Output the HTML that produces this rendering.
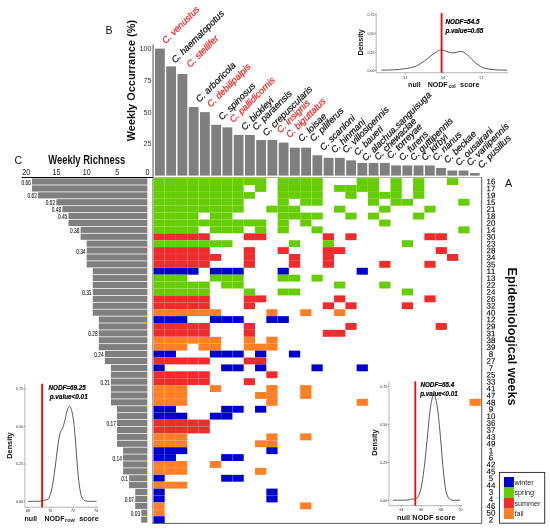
<!DOCTYPE html>
<html><head><meta charset="utf-8"><title>Figure</title>
<style>html,body{margin:0;padding:0;background:#fff}svg{display:block}text{font-family:"Liberation Sans",sans-serif}</style>
</head><body>
<svg width="550" height="530" viewBox="0 0 550 530">
<rect width="550" height="530" fill="#fff"/>
<rect x="153.40" y="178.10" width="11.29" height="6.90" fill="#66cd00" stroke="#fff" stroke-opacity=".14" stroke-width=".3"/>
<rect x="164.69" y="178.10" width="11.29" height="6.90" fill="#66cd00" stroke="#fff" stroke-opacity=".14" stroke-width=".3"/>
<rect x="175.98" y="178.10" width="11.29" height="6.90" fill="#66cd00" stroke="#fff" stroke-opacity=".14" stroke-width=".3"/>
<rect x="187.27" y="178.10" width="11.29" height="6.90" fill="#66cd00" stroke="#fff" stroke-opacity=".14" stroke-width=".3"/>
<rect x="198.56" y="178.10" width="11.29" height="6.90" fill="#66cd00" stroke="#fff" stroke-opacity=".14" stroke-width=".3"/>
<rect x="209.85" y="178.10" width="11.29" height="6.90" fill="#66cd00" stroke="#fff" stroke-opacity=".14" stroke-width=".3"/>
<rect x="221.14" y="178.10" width="11.29" height="6.90" fill="#66cd00" stroke="#fff" stroke-opacity=".14" stroke-width=".3"/>
<rect x="232.43" y="178.10" width="11.29" height="6.90" fill="#66cd00" stroke="#fff" stroke-opacity=".14" stroke-width=".3"/>
<rect x="243.72" y="178.10" width="11.29" height="6.90" fill="#66cd00" stroke="#fff" stroke-opacity=".14" stroke-width=".3"/>
<rect x="255.01" y="178.10" width="11.29" height="6.90" fill="#66cd00" stroke="#fff" stroke-opacity=".14" stroke-width=".3"/>
<rect x="277.59" y="178.10" width="11.29" height="6.90" fill="#66cd00" stroke="#fff" stroke-opacity=".14" stroke-width=".3"/>
<rect x="288.88" y="178.10" width="11.29" height="6.90" fill="#66cd00" stroke="#fff" stroke-opacity=".14" stroke-width=".3"/>
<rect x="300.17" y="178.10" width="11.29" height="6.90" fill="#66cd00" stroke="#fff" stroke-opacity=".14" stroke-width=".3"/>
<rect x="311.46" y="178.10" width="11.29" height="6.90" fill="#66cd00" stroke="#fff" stroke-opacity=".14" stroke-width=".3"/>
<rect x="356.62" y="178.10" width="11.29" height="6.90" fill="#66cd00" stroke="#fff" stroke-opacity=".14" stroke-width=".3"/>
<rect x="367.91" y="178.10" width="11.29" height="6.90" fill="#66cd00" stroke="#fff" stroke-opacity=".14" stroke-width=".3"/>
<rect x="390.49" y="178.10" width="11.29" height="6.90" fill="#66cd00" stroke="#fff" stroke-opacity=".14" stroke-width=".3"/>
<rect x="413.07" y="178.10" width="11.29" height="6.90" fill="#66cd00" stroke="#fff" stroke-opacity=".14" stroke-width=".3"/>
<rect x="446.94" y="178.10" width="11.29" height="6.90" fill="#66cd00" stroke="#fff" stroke-opacity=".14" stroke-width=".3"/>
<rect x="153.40" y="185.00" width="11.29" height="6.90" fill="#66cd00" stroke="#fff" stroke-opacity=".14" stroke-width=".3"/>
<rect x="164.69" y="185.00" width="11.29" height="6.90" fill="#66cd00" stroke="#fff" stroke-opacity=".14" stroke-width=".3"/>
<rect x="175.98" y="185.00" width="11.29" height="6.90" fill="#66cd00" stroke="#fff" stroke-opacity=".14" stroke-width=".3"/>
<rect x="187.27" y="185.00" width="11.29" height="6.90" fill="#66cd00" stroke="#fff" stroke-opacity=".14" stroke-width=".3"/>
<rect x="198.56" y="185.00" width="11.29" height="6.90" fill="#66cd00" stroke="#fff" stroke-opacity=".14" stroke-width=".3"/>
<rect x="209.85" y="185.00" width="11.29" height="6.90" fill="#66cd00" stroke="#fff" stroke-opacity=".14" stroke-width=".3"/>
<rect x="221.14" y="185.00" width="11.29" height="6.90" fill="#66cd00" stroke="#fff" stroke-opacity=".14" stroke-width=".3"/>
<rect x="232.43" y="185.00" width="11.29" height="6.90" fill="#66cd00" stroke="#fff" stroke-opacity=".14" stroke-width=".3"/>
<rect x="255.01" y="185.00" width="11.29" height="6.90" fill="#66cd00" stroke="#fff" stroke-opacity=".14" stroke-width=".3"/>
<rect x="277.59" y="185.00" width="11.29" height="6.90" fill="#66cd00" stroke="#fff" stroke-opacity=".14" stroke-width=".3"/>
<rect x="288.88" y="185.00" width="11.29" height="6.90" fill="#66cd00" stroke="#fff" stroke-opacity=".14" stroke-width=".3"/>
<rect x="300.17" y="185.00" width="11.29" height="6.90" fill="#66cd00" stroke="#fff" stroke-opacity=".14" stroke-width=".3"/>
<rect x="311.46" y="185.00" width="11.29" height="6.90" fill="#66cd00" stroke="#fff" stroke-opacity=".14" stroke-width=".3"/>
<rect x="334.04" y="185.00" width="11.29" height="6.90" fill="#66cd00" stroke="#fff" stroke-opacity=".14" stroke-width=".3"/>
<rect x="345.33" y="185.00" width="11.29" height="6.90" fill="#66cd00" stroke="#fff" stroke-opacity=".14" stroke-width=".3"/>
<rect x="356.62" y="185.00" width="11.29" height="6.90" fill="#66cd00" stroke="#fff" stroke-opacity=".14" stroke-width=".3"/>
<rect x="367.91" y="185.00" width="11.29" height="6.90" fill="#66cd00" stroke="#fff" stroke-opacity=".14" stroke-width=".3"/>
<rect x="390.49" y="185.00" width="11.29" height="6.90" fill="#66cd00" stroke="#fff" stroke-opacity=".14" stroke-width=".3"/>
<rect x="413.07" y="185.00" width="11.29" height="6.90" fill="#66cd00" stroke="#fff" stroke-opacity=".14" stroke-width=".3"/>
<rect x="153.40" y="191.90" width="11.29" height="6.90" fill="#66cd00" stroke="#fff" stroke-opacity=".14" stroke-width=".3"/>
<rect x="164.69" y="191.90" width="11.29" height="6.90" fill="#66cd00" stroke="#fff" stroke-opacity=".14" stroke-width=".3"/>
<rect x="175.98" y="191.90" width="11.29" height="6.90" fill="#66cd00" stroke="#fff" stroke-opacity=".14" stroke-width=".3"/>
<rect x="187.27" y="191.90" width="11.29" height="6.90" fill="#66cd00" stroke="#fff" stroke-opacity=".14" stroke-width=".3"/>
<rect x="198.56" y="191.90" width="11.29" height="6.90" fill="#66cd00" stroke="#fff" stroke-opacity=".14" stroke-width=".3"/>
<rect x="209.85" y="191.90" width="11.29" height="6.90" fill="#66cd00" stroke="#fff" stroke-opacity=".14" stroke-width=".3"/>
<rect x="221.14" y="191.90" width="11.29" height="6.90" fill="#66cd00" stroke="#fff" stroke-opacity=".14" stroke-width=".3"/>
<rect x="232.43" y="191.90" width="11.29" height="6.90" fill="#66cd00" stroke="#fff" stroke-opacity=".14" stroke-width=".3"/>
<rect x="243.72" y="191.90" width="11.29" height="6.90" fill="#66cd00" stroke="#fff" stroke-opacity=".14" stroke-width=".3"/>
<rect x="277.59" y="191.90" width="11.29" height="6.90" fill="#66cd00" stroke="#fff" stroke-opacity=".14" stroke-width=".3"/>
<rect x="288.88" y="191.90" width="11.29" height="6.90" fill="#66cd00" stroke="#fff" stroke-opacity=".14" stroke-width=".3"/>
<rect x="300.17" y="191.90" width="11.29" height="6.90" fill="#66cd00" stroke="#fff" stroke-opacity=".14" stroke-width=".3"/>
<rect x="311.46" y="191.90" width="11.29" height="6.90" fill="#66cd00" stroke="#fff" stroke-opacity=".14" stroke-width=".3"/>
<rect x="345.33" y="191.90" width="11.29" height="6.90" fill="#66cd00" stroke="#fff" stroke-opacity=".14" stroke-width=".3"/>
<rect x="367.91" y="191.90" width="11.29" height="6.90" fill="#66cd00" stroke="#fff" stroke-opacity=".14" stroke-width=".3"/>
<rect x="379.20" y="191.90" width="11.29" height="6.90" fill="#66cd00" stroke="#fff" stroke-opacity=".14" stroke-width=".3"/>
<rect x="390.49" y="191.90" width="11.29" height="6.90" fill="#66cd00" stroke="#fff" stroke-opacity=".14" stroke-width=".3"/>
<rect x="413.07" y="191.90" width="11.29" height="6.90" fill="#66cd00" stroke="#fff" stroke-opacity=".14" stroke-width=".3"/>
<rect x="153.40" y="198.80" width="11.29" height="6.90" fill="#66cd00" stroke="#fff" stroke-opacity=".14" stroke-width=".3"/>
<rect x="164.69" y="198.80" width="11.29" height="6.90" fill="#66cd00" stroke="#fff" stroke-opacity=".14" stroke-width=".3"/>
<rect x="175.98" y="198.80" width="11.29" height="6.90" fill="#66cd00" stroke="#fff" stroke-opacity=".14" stroke-width=".3"/>
<rect x="187.27" y="198.80" width="11.29" height="6.90" fill="#66cd00" stroke="#fff" stroke-opacity=".14" stroke-width=".3"/>
<rect x="198.56" y="198.80" width="11.29" height="6.90" fill="#66cd00" stroke="#fff" stroke-opacity=".14" stroke-width=".3"/>
<rect x="209.85" y="198.80" width="11.29" height="6.90" fill="#66cd00" stroke="#fff" stroke-opacity=".14" stroke-width=".3"/>
<rect x="221.14" y="198.80" width="11.29" height="6.90" fill="#66cd00" stroke="#fff" stroke-opacity=".14" stroke-width=".3"/>
<rect x="232.43" y="198.80" width="11.29" height="6.90" fill="#66cd00" stroke="#fff" stroke-opacity=".14" stroke-width=".3"/>
<rect x="277.59" y="198.80" width="11.29" height="6.90" fill="#66cd00" stroke="#fff" stroke-opacity=".14" stroke-width=".3"/>
<rect x="300.17" y="198.80" width="11.29" height="6.90" fill="#66cd00" stroke="#fff" stroke-opacity=".14" stroke-width=".3"/>
<rect x="311.46" y="198.80" width="11.29" height="6.90" fill="#66cd00" stroke="#fff" stroke-opacity=".14" stroke-width=".3"/>
<rect x="367.91" y="198.80" width="11.29" height="6.90" fill="#66cd00" stroke="#fff" stroke-opacity=".14" stroke-width=".3"/>
<rect x="390.49" y="198.80" width="11.29" height="6.90" fill="#66cd00" stroke="#fff" stroke-opacity=".14" stroke-width=".3"/>
<rect x="401.78" y="198.80" width="11.29" height="6.90" fill="#66cd00" stroke="#fff" stroke-opacity=".14" stroke-width=".3"/>
<rect x="458.23" y="198.80" width="11.29" height="6.90" fill="#66cd00" stroke="#fff" stroke-opacity=".14" stroke-width=".3"/>
<rect x="153.40" y="205.70" width="11.29" height="6.90" fill="#66cd00" stroke="#fff" stroke-opacity=".14" stroke-width=".3"/>
<rect x="164.69" y="205.70" width="11.29" height="6.90" fill="#66cd00" stroke="#fff" stroke-opacity=".14" stroke-width=".3"/>
<rect x="175.98" y="205.70" width="11.29" height="6.90" fill="#66cd00" stroke="#fff" stroke-opacity=".14" stroke-width=".3"/>
<rect x="187.27" y="205.70" width="11.29" height="6.90" fill="#66cd00" stroke="#fff" stroke-opacity=".14" stroke-width=".3"/>
<rect x="198.56" y="205.70" width="11.29" height="6.90" fill="#66cd00" stroke="#fff" stroke-opacity=".14" stroke-width=".3"/>
<rect x="209.85" y="205.70" width="11.29" height="6.90" fill="#66cd00" stroke="#fff" stroke-opacity=".14" stroke-width=".3"/>
<rect x="221.14" y="205.70" width="11.29" height="6.90" fill="#66cd00" stroke="#fff" stroke-opacity=".14" stroke-width=".3"/>
<rect x="232.43" y="205.70" width="11.29" height="6.90" fill="#66cd00" stroke="#fff" stroke-opacity=".14" stroke-width=".3"/>
<rect x="266.30" y="205.70" width="11.29" height="6.90" fill="#66cd00" stroke="#fff" stroke-opacity=".14" stroke-width=".3"/>
<rect x="277.59" y="205.70" width="11.29" height="6.90" fill="#66cd00" stroke="#fff" stroke-opacity=".14" stroke-width=".3"/>
<rect x="288.88" y="205.70" width="11.29" height="6.90" fill="#66cd00" stroke="#fff" stroke-opacity=".14" stroke-width=".3"/>
<rect x="334.04" y="205.70" width="11.29" height="6.90" fill="#66cd00" stroke="#fff" stroke-opacity=".14" stroke-width=".3"/>
<rect x="379.20" y="205.70" width="11.29" height="6.90" fill="#66cd00" stroke="#fff" stroke-opacity=".14" stroke-width=".3"/>
<rect x="424.36" y="205.70" width="11.29" height="6.90" fill="#66cd00" stroke="#fff" stroke-opacity=".14" stroke-width=".3"/>
<rect x="153.40" y="212.60" width="11.29" height="6.90" fill="#66cd00" stroke="#fff" stroke-opacity=".14" stroke-width=".3"/>
<rect x="164.69" y="212.60" width="11.29" height="6.90" fill="#66cd00" stroke="#fff" stroke-opacity=".14" stroke-width=".3"/>
<rect x="175.98" y="212.60" width="11.29" height="6.90" fill="#66cd00" stroke="#fff" stroke-opacity=".14" stroke-width=".3"/>
<rect x="187.27" y="212.60" width="11.29" height="6.90" fill="#66cd00" stroke="#fff" stroke-opacity=".14" stroke-width=".3"/>
<rect x="209.85" y="212.60" width="11.29" height="6.90" fill="#66cd00" stroke="#fff" stroke-opacity=".14" stroke-width=".3"/>
<rect x="221.14" y="212.60" width="11.29" height="6.90" fill="#66cd00" stroke="#fff" stroke-opacity=".14" stroke-width=".3"/>
<rect x="277.59" y="212.60" width="11.29" height="6.90" fill="#66cd00" stroke="#fff" stroke-opacity=".14" stroke-width=".3"/>
<rect x="288.88" y="212.60" width="11.29" height="6.90" fill="#66cd00" stroke="#fff" stroke-opacity=".14" stroke-width=".3"/>
<rect x="300.17" y="212.60" width="11.29" height="6.90" fill="#66cd00" stroke="#fff" stroke-opacity=".14" stroke-width=".3"/>
<rect x="311.46" y="212.60" width="11.29" height="6.90" fill="#66cd00" stroke="#fff" stroke-opacity=".14" stroke-width=".3"/>
<rect x="345.33" y="212.60" width="11.29" height="6.90" fill="#66cd00" stroke="#fff" stroke-opacity=".14" stroke-width=".3"/>
<rect x="367.91" y="212.60" width="11.29" height="6.90" fill="#66cd00" stroke="#fff" stroke-opacity=".14" stroke-width=".3"/>
<rect x="413.07" y="212.60" width="11.29" height="6.90" fill="#66cd00" stroke="#fff" stroke-opacity=".14" stroke-width=".3"/>
<rect x="153.40" y="219.50" width="11.29" height="6.90" fill="#66cd00" stroke="#fff" stroke-opacity=".14" stroke-width=".3"/>
<rect x="164.69" y="219.50" width="11.29" height="6.90" fill="#66cd00" stroke="#fff" stroke-opacity=".14" stroke-width=".3"/>
<rect x="175.98" y="219.50" width="11.29" height="6.90" fill="#66cd00" stroke="#fff" stroke-opacity=".14" stroke-width=".3"/>
<rect x="187.27" y="219.50" width="11.29" height="6.90" fill="#66cd00" stroke="#fff" stroke-opacity=".14" stroke-width=".3"/>
<rect x="198.56" y="219.50" width="11.29" height="6.90" fill="#66cd00" stroke="#fff" stroke-opacity=".14" stroke-width=".3"/>
<rect x="209.85" y="219.50" width="11.29" height="6.90" fill="#66cd00" stroke="#fff" stroke-opacity=".14" stroke-width=".3"/>
<rect x="221.14" y="219.50" width="11.29" height="6.90" fill="#66cd00" stroke="#fff" stroke-opacity=".14" stroke-width=".3"/>
<rect x="232.43" y="219.50" width="11.29" height="6.90" fill="#66cd00" stroke="#fff" stroke-opacity=".14" stroke-width=".3"/>
<rect x="243.72" y="219.50" width="11.29" height="6.90" fill="#66cd00" stroke="#fff" stroke-opacity=".14" stroke-width=".3"/>
<rect x="255.01" y="219.50" width="11.29" height="6.90" fill="#66cd00" stroke="#fff" stroke-opacity=".14" stroke-width=".3"/>
<rect x="277.59" y="219.50" width="11.29" height="6.90" fill="#66cd00" stroke="#fff" stroke-opacity=".14" stroke-width=".3"/>
<rect x="300.17" y="219.50" width="11.29" height="6.90" fill="#66cd00" stroke="#fff" stroke-opacity=".14" stroke-width=".3"/>
<rect x="379.20" y="219.50" width="11.29" height="6.90" fill="#66cd00" stroke="#fff" stroke-opacity=".14" stroke-width=".3"/>
<rect x="153.40" y="226.40" width="11.29" height="6.90" fill="#66cd00" stroke="#fff" stroke-opacity=".14" stroke-width=".3"/>
<rect x="164.69" y="226.40" width="11.29" height="6.90" fill="#66cd00" stroke="#fff" stroke-opacity=".14" stroke-width=".3"/>
<rect x="175.98" y="226.40" width="11.29" height="6.90" fill="#66cd00" stroke="#fff" stroke-opacity=".14" stroke-width=".3"/>
<rect x="187.27" y="226.40" width="11.29" height="6.90" fill="#66cd00" stroke="#fff" stroke-opacity=".14" stroke-width=".3"/>
<rect x="209.85" y="226.40" width="11.29" height="6.90" fill="#66cd00" stroke="#fff" stroke-opacity=".14" stroke-width=".3"/>
<rect x="221.14" y="226.40" width="11.29" height="6.90" fill="#66cd00" stroke="#fff" stroke-opacity=".14" stroke-width=".3"/>
<rect x="232.43" y="226.40" width="11.29" height="6.90" fill="#66cd00" stroke="#fff" stroke-opacity=".14" stroke-width=".3"/>
<rect x="255.01" y="226.40" width="11.29" height="6.90" fill="#66cd00" stroke="#fff" stroke-opacity=".14" stroke-width=".3"/>
<rect x="277.59" y="226.40" width="11.29" height="6.90" fill="#66cd00" stroke="#fff" stroke-opacity=".14" stroke-width=".3"/>
<rect x="311.46" y="226.40" width="11.29" height="6.90" fill="#66cd00" stroke="#fff" stroke-opacity=".14" stroke-width=".3"/>
<rect x="458.23" y="226.40" width="11.29" height="6.90" fill="#66cd00" stroke="#fff" stroke-opacity=".14" stroke-width=".3"/>
<rect x="153.40" y="233.30" width="11.29" height="6.90" fill="#ee2c2c" stroke="#fff" stroke-opacity=".14" stroke-width=".3"/>
<rect x="164.69" y="233.30" width="11.29" height="6.90" fill="#ee2c2c" stroke="#fff" stroke-opacity=".14" stroke-width=".3"/>
<rect x="175.98" y="233.30" width="11.29" height="6.90" fill="#ee2c2c" stroke="#fff" stroke-opacity=".14" stroke-width=".3"/>
<rect x="187.27" y="233.30" width="11.29" height="6.90" fill="#ee2c2c" stroke="#fff" stroke-opacity=".14" stroke-width=".3"/>
<rect x="198.56" y="233.30" width="11.29" height="6.90" fill="#ee2c2c" stroke="#fff" stroke-opacity=".14" stroke-width=".3"/>
<rect x="243.72" y="233.30" width="11.29" height="6.90" fill="#ee2c2c" stroke="#fff" stroke-opacity=".14" stroke-width=".3"/>
<rect x="255.01" y="233.30" width="11.29" height="6.90" fill="#ee2c2c" stroke="#fff" stroke-opacity=".14" stroke-width=".3"/>
<rect x="322.75" y="233.30" width="11.29" height="6.90" fill="#ee2c2c" stroke="#fff" stroke-opacity=".14" stroke-width=".3"/>
<rect x="345.33" y="233.30" width="11.29" height="6.90" fill="#ee2c2c" stroke="#fff" stroke-opacity=".14" stroke-width=".3"/>
<rect x="424.36" y="233.30" width="11.29" height="6.90" fill="#ee2c2c" stroke="#fff" stroke-opacity=".14" stroke-width=".3"/>
<rect x="435.65" y="233.30" width="11.29" height="6.90" fill="#ee2c2c" stroke="#fff" stroke-opacity=".14" stroke-width=".3"/>
<rect x="153.40" y="240.20" width="11.29" height="6.90" fill="#66cd00" stroke="#fff" stroke-opacity=".14" stroke-width=".3"/>
<rect x="164.69" y="240.20" width="11.29" height="6.90" fill="#66cd00" stroke="#fff" stroke-opacity=".14" stroke-width=".3"/>
<rect x="175.98" y="240.20" width="11.29" height="6.90" fill="#66cd00" stroke="#fff" stroke-opacity=".14" stroke-width=".3"/>
<rect x="187.27" y="240.20" width="11.29" height="6.90" fill="#66cd00" stroke="#fff" stroke-opacity=".14" stroke-width=".3"/>
<rect x="198.56" y="240.20" width="11.29" height="6.90" fill="#66cd00" stroke="#fff" stroke-opacity=".14" stroke-width=".3"/>
<rect x="209.85" y="240.20" width="11.29" height="6.90" fill="#66cd00" stroke="#fff" stroke-opacity=".14" stroke-width=".3"/>
<rect x="221.14" y="240.20" width="11.29" height="6.90" fill="#66cd00" stroke="#fff" stroke-opacity=".14" stroke-width=".3"/>
<rect x="288.88" y="240.20" width="11.29" height="6.90" fill="#66cd00" stroke="#fff" stroke-opacity=".14" stroke-width=".3"/>
<rect x="322.75" y="240.20" width="11.29" height="6.90" fill="#66cd00" stroke="#fff" stroke-opacity=".14" stroke-width=".3"/>
<rect x="401.78" y="240.20" width="11.29" height="6.90" fill="#66cd00" stroke="#fff" stroke-opacity=".14" stroke-width=".3"/>
<rect x="153.40" y="247.10" width="11.29" height="6.90" fill="#ee2c2c" stroke="#fff" stroke-opacity=".14" stroke-width=".3"/>
<rect x="164.69" y="247.10" width="11.29" height="6.90" fill="#ee2c2c" stroke="#fff" stroke-opacity=".14" stroke-width=".3"/>
<rect x="175.98" y="247.10" width="11.29" height="6.90" fill="#ee2c2c" stroke="#fff" stroke-opacity=".14" stroke-width=".3"/>
<rect x="187.27" y="247.10" width="11.29" height="6.90" fill="#ee2c2c" stroke="#fff" stroke-opacity=".14" stroke-width=".3"/>
<rect x="198.56" y="247.10" width="11.29" height="6.90" fill="#ee2c2c" stroke="#fff" stroke-opacity=".14" stroke-width=".3"/>
<rect x="243.72" y="247.10" width="11.29" height="6.90" fill="#ee2c2c" stroke="#fff" stroke-opacity=".14" stroke-width=".3"/>
<rect x="277.59" y="247.10" width="11.29" height="6.90" fill="#ee2c2c" stroke="#fff" stroke-opacity=".14" stroke-width=".3"/>
<rect x="322.75" y="247.10" width="11.29" height="6.90" fill="#ee2c2c" stroke="#fff" stroke-opacity=".14" stroke-width=".3"/>
<rect x="334.04" y="247.10" width="11.29" height="6.90" fill="#ee2c2c" stroke="#fff" stroke-opacity=".14" stroke-width=".3"/>
<rect x="435.65" y="247.10" width="11.29" height="6.90" fill="#ee2c2c" stroke="#fff" stroke-opacity=".14" stroke-width=".3"/>
<rect x="153.40" y="254.00" width="11.29" height="6.90" fill="#ee2c2c" stroke="#fff" stroke-opacity=".14" stroke-width=".3"/>
<rect x="164.69" y="254.00" width="11.29" height="6.90" fill="#ee2c2c" stroke="#fff" stroke-opacity=".14" stroke-width=".3"/>
<rect x="175.98" y="254.00" width="11.29" height="6.90" fill="#ee2c2c" stroke="#fff" stroke-opacity=".14" stroke-width=".3"/>
<rect x="187.27" y="254.00" width="11.29" height="6.90" fill="#ee2c2c" stroke="#fff" stroke-opacity=".14" stroke-width=".3"/>
<rect x="198.56" y="254.00" width="11.29" height="6.90" fill="#ee2c2c" stroke="#fff" stroke-opacity=".14" stroke-width=".3"/>
<rect x="209.85" y="254.00" width="11.29" height="6.90" fill="#ee2c2c" stroke="#fff" stroke-opacity=".14" stroke-width=".3"/>
<rect x="243.72" y="254.00" width="11.29" height="6.90" fill="#ee2c2c" stroke="#fff" stroke-opacity=".14" stroke-width=".3"/>
<rect x="288.88" y="254.00" width="11.29" height="6.90" fill="#ee2c2c" stroke="#fff" stroke-opacity=".14" stroke-width=".3"/>
<rect x="322.75" y="254.00" width="11.29" height="6.90" fill="#ee2c2c" stroke="#fff" stroke-opacity=".14" stroke-width=".3"/>
<rect x="446.94" y="254.00" width="11.29" height="6.90" fill="#ee2c2c" stroke="#fff" stroke-opacity=".14" stroke-width=".3"/>
<rect x="153.40" y="260.90" width="11.29" height="6.90" fill="#ee2c2c" stroke="#fff" stroke-opacity=".14" stroke-width=".3"/>
<rect x="164.69" y="260.90" width="11.29" height="6.90" fill="#ee2c2c" stroke="#fff" stroke-opacity=".14" stroke-width=".3"/>
<rect x="175.98" y="260.90" width="11.29" height="6.90" fill="#ee2c2c" stroke="#fff" stroke-opacity=".14" stroke-width=".3"/>
<rect x="187.27" y="260.90" width="11.29" height="6.90" fill="#ee2c2c" stroke="#fff" stroke-opacity=".14" stroke-width=".3"/>
<rect x="198.56" y="260.90" width="11.29" height="6.90" fill="#ee2c2c" stroke="#fff" stroke-opacity=".14" stroke-width=".3"/>
<rect x="243.72" y="260.90" width="11.29" height="6.90" fill="#ee2c2c" stroke="#fff" stroke-opacity=".14" stroke-width=".3"/>
<rect x="288.88" y="260.90" width="11.29" height="6.90" fill="#ee2c2c" stroke="#fff" stroke-opacity=".14" stroke-width=".3"/>
<rect x="322.75" y="260.90" width="11.29" height="6.90" fill="#ee2c2c" stroke="#fff" stroke-opacity=".14" stroke-width=".3"/>
<rect x="379.20" y="260.90" width="11.29" height="6.90" fill="#ee2c2c" stroke="#fff" stroke-opacity=".14" stroke-width=".3"/>
<rect x="424.36" y="260.90" width="11.29" height="6.90" fill="#ee2c2c" stroke="#fff" stroke-opacity=".14" stroke-width=".3"/>
<rect x="153.40" y="267.80" width="11.29" height="6.90" fill="#0000cd" stroke="#fff" stroke-opacity=".14" stroke-width=".3"/>
<rect x="164.69" y="267.80" width="11.29" height="6.90" fill="#0000cd" stroke="#fff" stroke-opacity=".14" stroke-width=".3"/>
<rect x="175.98" y="267.80" width="11.29" height="6.90" fill="#0000cd" stroke="#fff" stroke-opacity=".14" stroke-width=".3"/>
<rect x="187.27" y="267.80" width="11.29" height="6.90" fill="#0000cd" stroke="#fff" stroke-opacity=".14" stroke-width=".3"/>
<rect x="209.85" y="267.80" width="11.29" height="6.90" fill="#0000cd" stroke="#fff" stroke-opacity=".14" stroke-width=".3"/>
<rect x="221.14" y="267.80" width="11.29" height="6.90" fill="#0000cd" stroke="#fff" stroke-opacity=".14" stroke-width=".3"/>
<rect x="232.43" y="267.80" width="11.29" height="6.90" fill="#0000cd" stroke="#fff" stroke-opacity=".14" stroke-width=".3"/>
<rect x="277.59" y="267.80" width="11.29" height="6.90" fill="#0000cd" stroke="#fff" stroke-opacity=".14" stroke-width=".3"/>
<rect x="356.62" y="267.80" width="11.29" height="6.90" fill="#0000cd" stroke="#fff" stroke-opacity=".14" stroke-width=".3"/>
<rect x="153.40" y="274.70" width="11.29" height="6.90" fill="#66cd00" stroke="#fff" stroke-opacity=".14" stroke-width=".3"/>
<rect x="164.69" y="274.70" width="11.29" height="6.90" fill="#66cd00" stroke="#fff" stroke-opacity=".14" stroke-width=".3"/>
<rect x="175.98" y="274.70" width="11.29" height="6.90" fill="#66cd00" stroke="#fff" stroke-opacity=".14" stroke-width=".3"/>
<rect x="209.85" y="274.70" width="11.29" height="6.90" fill="#66cd00" stroke="#fff" stroke-opacity=".14" stroke-width=".3"/>
<rect x="221.14" y="274.70" width="11.29" height="6.90" fill="#66cd00" stroke="#fff" stroke-opacity=".14" stroke-width=".3"/>
<rect x="232.43" y="274.70" width="11.29" height="6.90" fill="#66cd00" stroke="#fff" stroke-opacity=".14" stroke-width=".3"/>
<rect x="277.59" y="274.70" width="11.29" height="6.90" fill="#66cd00" stroke="#fff" stroke-opacity=".14" stroke-width=".3"/>
<rect x="288.88" y="274.70" width="11.29" height="6.90" fill="#66cd00" stroke="#fff" stroke-opacity=".14" stroke-width=".3"/>
<rect x="311.46" y="274.70" width="11.29" height="6.90" fill="#66cd00" stroke="#fff" stroke-opacity=".14" stroke-width=".3"/>
<rect x="153.40" y="281.60" width="11.29" height="6.90" fill="#66cd00" stroke="#fff" stroke-opacity=".14" stroke-width=".3"/>
<rect x="164.69" y="281.60" width="11.29" height="6.90" fill="#66cd00" stroke="#fff" stroke-opacity=".14" stroke-width=".3"/>
<rect x="175.98" y="281.60" width="11.29" height="6.90" fill="#66cd00" stroke="#fff" stroke-opacity=".14" stroke-width=".3"/>
<rect x="187.27" y="281.60" width="11.29" height="6.90" fill="#66cd00" stroke="#fff" stroke-opacity=".14" stroke-width=".3"/>
<rect x="198.56" y="281.60" width="11.29" height="6.90" fill="#66cd00" stroke="#fff" stroke-opacity=".14" stroke-width=".3"/>
<rect x="221.14" y="281.60" width="11.29" height="6.90" fill="#66cd00" stroke="#fff" stroke-opacity=".14" stroke-width=".3"/>
<rect x="232.43" y="281.60" width="11.29" height="6.90" fill="#66cd00" stroke="#fff" stroke-opacity=".14" stroke-width=".3"/>
<rect x="334.04" y="281.60" width="11.29" height="6.90" fill="#66cd00" stroke="#fff" stroke-opacity=".14" stroke-width=".3"/>
<rect x="379.20" y="281.60" width="11.29" height="6.90" fill="#66cd00" stroke="#fff" stroke-opacity=".14" stroke-width=".3"/>
<rect x="153.40" y="288.50" width="11.29" height="6.90" fill="#66cd00" stroke="#fff" stroke-opacity=".14" stroke-width=".3"/>
<rect x="164.69" y="288.50" width="11.29" height="6.90" fill="#66cd00" stroke="#fff" stroke-opacity=".14" stroke-width=".3"/>
<rect x="175.98" y="288.50" width="11.29" height="6.90" fill="#66cd00" stroke="#fff" stroke-opacity=".14" stroke-width=".3"/>
<rect x="187.27" y="288.50" width="11.29" height="6.90" fill="#66cd00" stroke="#fff" stroke-opacity=".14" stroke-width=".3"/>
<rect x="198.56" y="288.50" width="11.29" height="6.90" fill="#66cd00" stroke="#fff" stroke-opacity=".14" stroke-width=".3"/>
<rect x="243.72" y="288.50" width="11.29" height="6.90" fill="#66cd00" stroke="#fff" stroke-opacity=".14" stroke-width=".3"/>
<rect x="277.59" y="288.50" width="11.29" height="6.90" fill="#66cd00" stroke="#fff" stroke-opacity=".14" stroke-width=".3"/>
<rect x="288.88" y="288.50" width="11.29" height="6.90" fill="#66cd00" stroke="#fff" stroke-opacity=".14" stroke-width=".3"/>
<rect x="401.78" y="288.50" width="11.29" height="6.90" fill="#66cd00" stroke="#fff" stroke-opacity=".14" stroke-width=".3"/>
<rect x="153.40" y="295.40" width="11.29" height="6.90" fill="#ee2c2c" stroke="#fff" stroke-opacity=".14" stroke-width=".3"/>
<rect x="164.69" y="295.40" width="11.29" height="6.90" fill="#ee2c2c" stroke="#fff" stroke-opacity=".14" stroke-width=".3"/>
<rect x="175.98" y="295.40" width="11.29" height="6.90" fill="#ee2c2c" stroke="#fff" stroke-opacity=".14" stroke-width=".3"/>
<rect x="187.27" y="295.40" width="11.29" height="6.90" fill="#ee2c2c" stroke="#fff" stroke-opacity=".14" stroke-width=".3"/>
<rect x="198.56" y="295.40" width="11.29" height="6.90" fill="#ee2c2c" stroke="#fff" stroke-opacity=".14" stroke-width=".3"/>
<rect x="243.72" y="295.40" width="11.29" height="6.90" fill="#ee2c2c" stroke="#fff" stroke-opacity=".14" stroke-width=".3"/>
<rect x="255.01" y="295.40" width="11.29" height="6.90" fill="#ee2c2c" stroke="#fff" stroke-opacity=".14" stroke-width=".3"/>
<rect x="334.04" y="295.40" width="11.29" height="6.90" fill="#ee2c2c" stroke="#fff" stroke-opacity=".14" stroke-width=".3"/>
<rect x="424.36" y="295.40" width="11.29" height="6.90" fill="#ee2c2c" stroke="#fff" stroke-opacity=".14" stroke-width=".3"/>
<rect x="153.40" y="302.30" width="11.29" height="6.90" fill="#ee2c2c" stroke="#fff" stroke-opacity=".14" stroke-width=".3"/>
<rect x="164.69" y="302.30" width="11.29" height="6.90" fill="#ee2c2c" stroke="#fff" stroke-opacity=".14" stroke-width=".3"/>
<rect x="175.98" y="302.30" width="11.29" height="6.90" fill="#ee2c2c" stroke="#fff" stroke-opacity=".14" stroke-width=".3"/>
<rect x="187.27" y="302.30" width="11.29" height="6.90" fill="#ee2c2c" stroke="#fff" stroke-opacity=".14" stroke-width=".3"/>
<rect x="198.56" y="302.30" width="11.29" height="6.90" fill="#ee2c2c" stroke="#fff" stroke-opacity=".14" stroke-width=".3"/>
<rect x="243.72" y="302.30" width="11.29" height="6.90" fill="#ee2c2c" stroke="#fff" stroke-opacity=".14" stroke-width=".3"/>
<rect x="322.75" y="302.30" width="11.29" height="6.90" fill="#ee2c2c" stroke="#fff" stroke-opacity=".14" stroke-width=".3"/>
<rect x="345.33" y="302.30" width="11.29" height="6.90" fill="#ee2c2c" stroke="#fff" stroke-opacity=".14" stroke-width=".3"/>
<rect x="401.78" y="302.30" width="11.29" height="6.90" fill="#ee2c2c" stroke="#fff" stroke-opacity=".14" stroke-width=".3"/>
<rect x="153.40" y="309.20" width="11.29" height="6.90" fill="#ff7f24" stroke="#fff" stroke-opacity=".14" stroke-width=".3"/>
<rect x="164.69" y="309.20" width="11.29" height="6.90" fill="#ff7f24" stroke="#fff" stroke-opacity=".14" stroke-width=".3"/>
<rect x="175.98" y="309.20" width="11.29" height="6.90" fill="#ff7f24" stroke="#fff" stroke-opacity=".14" stroke-width=".3"/>
<rect x="187.27" y="309.20" width="11.29" height="6.90" fill="#ff7f24" stroke="#fff" stroke-opacity=".14" stroke-width=".3"/>
<rect x="198.56" y="309.20" width="11.29" height="6.90" fill="#ff7f24" stroke="#fff" stroke-opacity=".14" stroke-width=".3"/>
<rect x="209.85" y="309.20" width="11.29" height="6.90" fill="#ff7f24" stroke="#fff" stroke-opacity=".14" stroke-width=".3"/>
<rect x="266.30" y="309.20" width="11.29" height="6.90" fill="#ff7f24" stroke="#fff" stroke-opacity=".14" stroke-width=".3"/>
<rect x="300.17" y="309.20" width="11.29" height="6.90" fill="#ff7f24" stroke="#fff" stroke-opacity=".14" stroke-width=".3"/>
<rect x="334.04" y="309.20" width="11.29" height="6.90" fill="#ff7f24" stroke="#fff" stroke-opacity=".14" stroke-width=".3"/>
<rect x="153.40" y="316.10" width="11.29" height="6.90" fill="#0000cd" stroke="#fff" stroke-opacity=".14" stroke-width=".3"/>
<rect x="164.69" y="316.10" width="11.29" height="6.90" fill="#0000cd" stroke="#fff" stroke-opacity=".14" stroke-width=".3"/>
<rect x="175.98" y="316.10" width="11.29" height="6.90" fill="#0000cd" stroke="#fff" stroke-opacity=".14" stroke-width=".3"/>
<rect x="209.85" y="316.10" width="11.29" height="6.90" fill="#0000cd" stroke="#fff" stroke-opacity=".14" stroke-width=".3"/>
<rect x="221.14" y="316.10" width="11.29" height="6.90" fill="#0000cd" stroke="#fff" stroke-opacity=".14" stroke-width=".3"/>
<rect x="232.43" y="316.10" width="11.29" height="6.90" fill="#0000cd" stroke="#fff" stroke-opacity=".14" stroke-width=".3"/>
<rect x="266.30" y="316.10" width="11.29" height="6.90" fill="#0000cd" stroke="#fff" stroke-opacity=".14" stroke-width=".3"/>
<rect x="277.59" y="316.10" width="11.29" height="6.90" fill="#0000cd" stroke="#fff" stroke-opacity=".14" stroke-width=".3"/>
<rect x="153.40" y="323.00" width="11.29" height="6.90" fill="#ee2c2c" stroke="#fff" stroke-opacity=".14" stroke-width=".3"/>
<rect x="164.69" y="323.00" width="11.29" height="6.90" fill="#ee2c2c" stroke="#fff" stroke-opacity=".14" stroke-width=".3"/>
<rect x="175.98" y="323.00" width="11.29" height="6.90" fill="#ee2c2c" stroke="#fff" stroke-opacity=".14" stroke-width=".3"/>
<rect x="187.27" y="323.00" width="11.29" height="6.90" fill="#ee2c2c" stroke="#fff" stroke-opacity=".14" stroke-width=".3"/>
<rect x="198.56" y="323.00" width="11.29" height="6.90" fill="#ee2c2c" stroke="#fff" stroke-opacity=".14" stroke-width=".3"/>
<rect x="243.72" y="323.00" width="11.29" height="6.90" fill="#ee2c2c" stroke="#fff" stroke-opacity=".14" stroke-width=".3"/>
<rect x="345.33" y="323.00" width="11.29" height="6.90" fill="#ee2c2c" stroke="#fff" stroke-opacity=".14" stroke-width=".3"/>
<rect x="435.65" y="323.00" width="11.29" height="6.90" fill="#ee2c2c" stroke="#fff" stroke-opacity=".14" stroke-width=".3"/>
<rect x="153.40" y="329.90" width="11.29" height="6.90" fill="#ee2c2c" stroke="#fff" stroke-opacity=".14" stroke-width=".3"/>
<rect x="164.69" y="329.90" width="11.29" height="6.90" fill="#ee2c2c" stroke="#fff" stroke-opacity=".14" stroke-width=".3"/>
<rect x="175.98" y="329.90" width="11.29" height="6.90" fill="#ee2c2c" stroke="#fff" stroke-opacity=".14" stroke-width=".3"/>
<rect x="187.27" y="329.90" width="11.29" height="6.90" fill="#ee2c2c" stroke="#fff" stroke-opacity=".14" stroke-width=".3"/>
<rect x="198.56" y="329.90" width="11.29" height="6.90" fill="#ee2c2c" stroke="#fff" stroke-opacity=".14" stroke-width=".3"/>
<rect x="243.72" y="329.90" width="11.29" height="6.90" fill="#ee2c2c" stroke="#fff" stroke-opacity=".14" stroke-width=".3"/>
<rect x="322.75" y="329.90" width="11.29" height="6.90" fill="#ee2c2c" stroke="#fff" stroke-opacity=".14" stroke-width=".3"/>
<rect x="334.04" y="329.90" width="11.29" height="6.90" fill="#ee2c2c" stroke="#fff" stroke-opacity=".14" stroke-width=".3"/>
<rect x="153.40" y="336.80" width="11.29" height="6.90" fill="#ff7f24" stroke="#fff" stroke-opacity=".14" stroke-width=".3"/>
<rect x="164.69" y="336.80" width="11.29" height="6.90" fill="#ff7f24" stroke="#fff" stroke-opacity=".14" stroke-width=".3"/>
<rect x="175.98" y="336.80" width="11.29" height="6.90" fill="#ff7f24" stroke="#fff" stroke-opacity=".14" stroke-width=".3"/>
<rect x="187.27" y="336.80" width="11.29" height="6.90" fill="#ff7f24" stroke="#fff" stroke-opacity=".14" stroke-width=".3"/>
<rect x="198.56" y="336.80" width="11.29" height="6.90" fill="#ff7f24" stroke="#fff" stroke-opacity=".14" stroke-width=".3"/>
<rect x="209.85" y="336.80" width="11.29" height="6.90" fill="#ff7f24" stroke="#fff" stroke-opacity=".14" stroke-width=".3"/>
<rect x="243.72" y="336.80" width="11.29" height="6.90" fill="#ff7f24" stroke="#fff" stroke-opacity=".14" stroke-width=".3"/>
<rect x="266.30" y="336.80" width="11.29" height="6.90" fill="#ff7f24" stroke="#fff" stroke-opacity=".14" stroke-width=".3"/>
<rect x="153.40" y="343.70" width="11.29" height="6.90" fill="#ff7f24" stroke="#fff" stroke-opacity=".14" stroke-width=".3"/>
<rect x="164.69" y="343.70" width="11.29" height="6.90" fill="#ff7f24" stroke="#fff" stroke-opacity=".14" stroke-width=".3"/>
<rect x="175.98" y="343.70" width="11.29" height="6.90" fill="#ff7f24" stroke="#fff" stroke-opacity=".14" stroke-width=".3"/>
<rect x="198.56" y="343.70" width="11.29" height="6.90" fill="#ff7f24" stroke="#fff" stroke-opacity=".14" stroke-width=".3"/>
<rect x="209.85" y="343.70" width="11.29" height="6.90" fill="#ff7f24" stroke="#fff" stroke-opacity=".14" stroke-width=".3"/>
<rect x="243.72" y="343.70" width="11.29" height="6.90" fill="#ff7f24" stroke="#fff" stroke-opacity=".14" stroke-width=".3"/>
<rect x="255.01" y="343.70" width="11.29" height="6.90" fill="#ff7f24" stroke="#fff" stroke-opacity=".14" stroke-width=".3"/>
<rect x="266.30" y="343.70" width="11.29" height="6.90" fill="#ff7f24" stroke="#fff" stroke-opacity=".14" stroke-width=".3"/>
<rect x="153.40" y="350.60" width="11.29" height="6.90" fill="#0000cd" stroke="#fff" stroke-opacity=".14" stroke-width=".3"/>
<rect x="164.69" y="350.60" width="11.29" height="6.90" fill="#0000cd" stroke="#fff" stroke-opacity=".14" stroke-width=".3"/>
<rect x="209.85" y="350.60" width="11.29" height="6.90" fill="#0000cd" stroke="#fff" stroke-opacity=".14" stroke-width=".3"/>
<rect x="221.14" y="350.60" width="11.29" height="6.90" fill="#0000cd" stroke="#fff" stroke-opacity=".14" stroke-width=".3"/>
<rect x="232.43" y="350.60" width="11.29" height="6.90" fill="#0000cd" stroke="#fff" stroke-opacity=".14" stroke-width=".3"/>
<rect x="255.01" y="350.60" width="11.29" height="6.90" fill="#0000cd" stroke="#fff" stroke-opacity=".14" stroke-width=".3"/>
<rect x="288.88" y="350.60" width="11.29" height="6.90" fill="#0000cd" stroke="#fff" stroke-opacity=".14" stroke-width=".3"/>
<rect x="153.40" y="357.50" width="11.29" height="6.90" fill="#ee2c2c" stroke="#fff" stroke-opacity=".14" stroke-width=".3"/>
<rect x="164.69" y="357.50" width="11.29" height="6.90" fill="#ee2c2c" stroke="#fff" stroke-opacity=".14" stroke-width=".3"/>
<rect x="175.98" y="357.50" width="11.29" height="6.90" fill="#ee2c2c" stroke="#fff" stroke-opacity=".14" stroke-width=".3"/>
<rect x="187.27" y="357.50" width="11.29" height="6.90" fill="#ee2c2c" stroke="#fff" stroke-opacity=".14" stroke-width=".3"/>
<rect x="198.56" y="357.50" width="11.29" height="6.90" fill="#ee2c2c" stroke="#fff" stroke-opacity=".14" stroke-width=".3"/>
<rect x="243.72" y="357.50" width="11.29" height="6.90" fill="#ee2c2c" stroke="#fff" stroke-opacity=".14" stroke-width=".3"/>
<rect x="255.01" y="357.50" width="11.29" height="6.90" fill="#ee2c2c" stroke="#fff" stroke-opacity=".14" stroke-width=".3"/>
<rect x="153.40" y="364.40" width="11.29" height="6.90" fill="#0000cd" stroke="#fff" stroke-opacity=".14" stroke-width=".3"/>
<rect x="221.14" y="364.40" width="11.29" height="6.90" fill="#0000cd" stroke="#fff" stroke-opacity=".14" stroke-width=".3"/>
<rect x="232.43" y="364.40" width="11.29" height="6.90" fill="#0000cd" stroke="#fff" stroke-opacity=".14" stroke-width=".3"/>
<rect x="255.01" y="364.40" width="11.29" height="6.90" fill="#0000cd" stroke="#fff" stroke-opacity=".14" stroke-width=".3"/>
<rect x="311.46" y="364.40" width="11.29" height="6.90" fill="#0000cd" stroke="#fff" stroke-opacity=".14" stroke-width=".3"/>
<rect x="356.62" y="364.40" width="11.29" height="6.90" fill="#0000cd" stroke="#fff" stroke-opacity=".14" stroke-width=".3"/>
<rect x="153.40" y="371.30" width="11.29" height="6.90" fill="#ee2c2c" stroke="#fff" stroke-opacity=".14" stroke-width=".3"/>
<rect x="164.69" y="371.30" width="11.29" height="6.90" fill="#ee2c2c" stroke="#fff" stroke-opacity=".14" stroke-width=".3"/>
<rect x="175.98" y="371.30" width="11.29" height="6.90" fill="#ee2c2c" stroke="#fff" stroke-opacity=".14" stroke-width=".3"/>
<rect x="187.27" y="371.30" width="11.29" height="6.90" fill="#ee2c2c" stroke="#fff" stroke-opacity=".14" stroke-width=".3"/>
<rect x="198.56" y="371.30" width="11.29" height="6.90" fill="#ee2c2c" stroke="#fff" stroke-opacity=".14" stroke-width=".3"/>
<rect x="266.30" y="371.30" width="11.29" height="6.90" fill="#ee2c2c" stroke="#fff" stroke-opacity=".14" stroke-width=".3"/>
<rect x="153.40" y="378.20" width="11.29" height="6.90" fill="#ee2c2c" stroke="#fff" stroke-opacity=".14" stroke-width=".3"/>
<rect x="164.69" y="378.20" width="11.29" height="6.90" fill="#ee2c2c" stroke="#fff" stroke-opacity=".14" stroke-width=".3"/>
<rect x="175.98" y="378.20" width="11.29" height="6.90" fill="#ee2c2c" stroke="#fff" stroke-opacity=".14" stroke-width=".3"/>
<rect x="187.27" y="378.20" width="11.29" height="6.90" fill="#ee2c2c" stroke="#fff" stroke-opacity=".14" stroke-width=".3"/>
<rect x="198.56" y="378.20" width="11.29" height="6.90" fill="#ee2c2c" stroke="#fff" stroke-opacity=".14" stroke-width=".3"/>
<rect x="243.72" y="378.20" width="11.29" height="6.90" fill="#ee2c2c" stroke="#fff" stroke-opacity=".14" stroke-width=".3"/>
<rect x="153.40" y="385.10" width="11.29" height="6.90" fill="#ff7f24" stroke="#fff" stroke-opacity=".14" stroke-width=".3"/>
<rect x="164.69" y="385.10" width="11.29" height="6.90" fill="#ff7f24" stroke="#fff" stroke-opacity=".14" stroke-width=".3"/>
<rect x="175.98" y="385.10" width="11.29" height="6.90" fill="#ff7f24" stroke="#fff" stroke-opacity=".14" stroke-width=".3"/>
<rect x="209.85" y="385.10" width="11.29" height="6.90" fill="#ff7f24" stroke="#fff" stroke-opacity=".14" stroke-width=".3"/>
<rect x="266.30" y="385.10" width="11.29" height="6.90" fill="#ff7f24" stroke="#fff" stroke-opacity=".14" stroke-width=".3"/>
<rect x="300.17" y="385.10" width="11.29" height="6.90" fill="#ff7f24" stroke="#fff" stroke-opacity=".14" stroke-width=".3"/>
<rect x="153.40" y="392.00" width="11.29" height="6.90" fill="#ff7f24" stroke="#fff" stroke-opacity=".14" stroke-width=".3"/>
<rect x="164.69" y="392.00" width="11.29" height="6.90" fill="#ff7f24" stroke="#fff" stroke-opacity=".14" stroke-width=".3"/>
<rect x="175.98" y="392.00" width="11.29" height="6.90" fill="#ff7f24" stroke="#fff" stroke-opacity=".14" stroke-width=".3"/>
<rect x="255.01" y="392.00" width="11.29" height="6.90" fill="#ff7f24" stroke="#fff" stroke-opacity=".14" stroke-width=".3"/>
<rect x="266.30" y="392.00" width="11.29" height="6.90" fill="#ff7f24" stroke="#fff" stroke-opacity=".14" stroke-width=".3"/>
<rect x="300.17" y="392.00" width="11.29" height="6.90" fill="#ff7f24" stroke="#fff" stroke-opacity=".14" stroke-width=".3"/>
<rect x="153.40" y="398.90" width="11.29" height="6.90" fill="#ff7f24" stroke="#fff" stroke-opacity=".14" stroke-width=".3"/>
<rect x="164.69" y="398.90" width="11.29" height="6.90" fill="#ff7f24" stroke="#fff" stroke-opacity=".14" stroke-width=".3"/>
<rect x="175.98" y="398.90" width="11.29" height="6.90" fill="#ff7f24" stroke="#fff" stroke-opacity=".14" stroke-width=".3"/>
<rect x="266.30" y="398.90" width="11.29" height="6.90" fill="#ff7f24" stroke="#fff" stroke-opacity=".14" stroke-width=".3"/>
<rect x="356.62" y="398.90" width="11.29" height="6.90" fill="#ff7f24" stroke="#fff" stroke-opacity=".14" stroke-width=".3"/>
<rect x="469.52" y="398.90" width="11.29" height="6.90" fill="#ff7f24" stroke="#fff" stroke-opacity=".14" stroke-width=".3"/>
<rect x="153.40" y="405.80" width="11.29" height="6.90" fill="#0000cd" stroke="#fff" stroke-opacity=".14" stroke-width=".3"/>
<rect x="164.69" y="405.80" width="11.29" height="6.90" fill="#0000cd" stroke="#fff" stroke-opacity=".14" stroke-width=".3"/>
<rect x="221.14" y="405.80" width="11.29" height="6.90" fill="#0000cd" stroke="#fff" stroke-opacity=".14" stroke-width=".3"/>
<rect x="232.43" y="405.80" width="11.29" height="6.90" fill="#0000cd" stroke="#fff" stroke-opacity=".14" stroke-width=".3"/>
<rect x="255.01" y="405.80" width="11.29" height="6.90" fill="#0000cd" stroke="#fff" stroke-opacity=".14" stroke-width=".3"/>
<rect x="153.40" y="412.70" width="11.29" height="6.90" fill="#0000cd" stroke="#fff" stroke-opacity=".14" stroke-width=".3"/>
<rect x="164.69" y="412.70" width="11.29" height="6.90" fill="#0000cd" stroke="#fff" stroke-opacity=".14" stroke-width=".3"/>
<rect x="175.98" y="412.70" width="11.29" height="6.90" fill="#0000cd" stroke="#fff" stroke-opacity=".14" stroke-width=".3"/>
<rect x="209.85" y="412.70" width="11.29" height="6.90" fill="#0000cd" stroke="#fff" stroke-opacity=".14" stroke-width=".3"/>
<rect x="221.14" y="412.70" width="11.29" height="6.90" fill="#0000cd" stroke="#fff" stroke-opacity=".14" stroke-width=".3"/>
<rect x="153.40" y="419.60" width="11.29" height="6.90" fill="#ee2c2c" stroke="#fff" stroke-opacity=".14" stroke-width=".3"/>
<rect x="164.69" y="419.60" width="11.29" height="6.90" fill="#ee2c2c" stroke="#fff" stroke-opacity=".14" stroke-width=".3"/>
<rect x="175.98" y="419.60" width="11.29" height="6.90" fill="#ee2c2c" stroke="#fff" stroke-opacity=".14" stroke-width=".3"/>
<rect x="187.27" y="419.60" width="11.29" height="6.90" fill="#ee2c2c" stroke="#fff" stroke-opacity=".14" stroke-width=".3"/>
<rect x="198.56" y="419.60" width="11.29" height="6.90" fill="#ee2c2c" stroke="#fff" stroke-opacity=".14" stroke-width=".3"/>
<rect x="153.40" y="426.50" width="11.29" height="6.90" fill="#ee2c2c" stroke="#fff" stroke-opacity=".14" stroke-width=".3"/>
<rect x="164.69" y="426.50" width="11.29" height="6.90" fill="#ee2c2c" stroke="#fff" stroke-opacity=".14" stroke-width=".3"/>
<rect x="175.98" y="426.50" width="11.29" height="6.90" fill="#ee2c2c" stroke="#fff" stroke-opacity=".14" stroke-width=".3"/>
<rect x="187.27" y="426.50" width="11.29" height="6.90" fill="#ee2c2c" stroke="#fff" stroke-opacity=".14" stroke-width=".3"/>
<rect x="198.56" y="426.50" width="11.29" height="6.90" fill="#ee2c2c" stroke="#fff" stroke-opacity=".14" stroke-width=".3"/>
<rect x="153.40" y="433.40" width="11.29" height="6.90" fill="#ff7f24" stroke="#fff" stroke-opacity=".14" stroke-width=".3"/>
<rect x="164.69" y="433.40" width="11.29" height="6.90" fill="#ff7f24" stroke="#fff" stroke-opacity=".14" stroke-width=".3"/>
<rect x="175.98" y="433.40" width="11.29" height="6.90" fill="#ff7f24" stroke="#fff" stroke-opacity=".14" stroke-width=".3"/>
<rect x="266.30" y="433.40" width="11.29" height="6.90" fill="#ff7f24" stroke="#fff" stroke-opacity=".14" stroke-width=".3"/>
<rect x="300.17" y="433.40" width="11.29" height="6.90" fill="#ff7f24" stroke="#fff" stroke-opacity=".14" stroke-width=".3"/>
<rect x="153.40" y="440.30" width="11.29" height="6.90" fill="#ff7f24" stroke="#fff" stroke-opacity=".14" stroke-width=".3"/>
<rect x="164.69" y="440.30" width="11.29" height="6.90" fill="#ff7f24" stroke="#fff" stroke-opacity=".14" stroke-width=".3"/>
<rect x="175.98" y="440.30" width="11.29" height="6.90" fill="#ff7f24" stroke="#fff" stroke-opacity=".14" stroke-width=".3"/>
<rect x="255.01" y="440.30" width="11.29" height="6.90" fill="#ff7f24" stroke="#fff" stroke-opacity=".14" stroke-width=".3"/>
<rect x="266.30" y="440.30" width="11.29" height="6.90" fill="#ff7f24" stroke="#fff" stroke-opacity=".14" stroke-width=".3"/>
<rect x="153.40" y="447.20" width="11.29" height="6.90" fill="#0000cd" stroke="#fff" stroke-opacity=".14" stroke-width=".3"/>
<rect x="164.69" y="447.20" width="11.29" height="6.90" fill="#0000cd" stroke="#fff" stroke-opacity=".14" stroke-width=".3"/>
<rect x="175.98" y="447.20" width="11.29" height="6.90" fill="#0000cd" stroke="#fff" stroke-opacity=".14" stroke-width=".3"/>
<rect x="266.30" y="447.20" width="11.29" height="6.90" fill="#0000cd" stroke="#fff" stroke-opacity=".14" stroke-width=".3"/>
<rect x="153.40" y="454.10" width="11.29" height="6.90" fill="#0000cd" stroke="#fff" stroke-opacity=".14" stroke-width=".3"/>
<rect x="164.69" y="454.10" width="11.29" height="6.90" fill="#0000cd" stroke="#fff" stroke-opacity=".14" stroke-width=".3"/>
<rect x="221.14" y="454.10" width="11.29" height="6.90" fill="#0000cd" stroke="#fff" stroke-opacity=".14" stroke-width=".3"/>
<rect x="232.43" y="454.10" width="11.29" height="6.90" fill="#0000cd" stroke="#fff" stroke-opacity=".14" stroke-width=".3"/>
<rect x="153.40" y="461.00" width="11.29" height="6.90" fill="#ff7f24" stroke="#fff" stroke-opacity=".14" stroke-width=".3"/>
<rect x="164.69" y="461.00" width="11.29" height="6.90" fill="#ff7f24" stroke="#fff" stroke-opacity=".14" stroke-width=".3"/>
<rect x="175.98" y="461.00" width="11.29" height="6.90" fill="#ff7f24" stroke="#fff" stroke-opacity=".14" stroke-width=".3"/>
<rect x="209.85" y="461.00" width="11.29" height="6.90" fill="#ff7f24" stroke="#fff" stroke-opacity=".14" stroke-width=".3"/>
<rect x="153.40" y="467.90" width="11.29" height="6.90" fill="#ff7f24" stroke="#fff" stroke-opacity=".14" stroke-width=".3"/>
<rect x="164.69" y="467.90" width="11.29" height="6.90" fill="#ff7f24" stroke="#fff" stroke-opacity=".14" stroke-width=".3"/>
<rect x="175.98" y="467.90" width="11.29" height="6.90" fill="#ff7f24" stroke="#fff" stroke-opacity=".14" stroke-width=".3"/>
<rect x="255.01" y="467.90" width="11.29" height="6.90" fill="#ff7f24" stroke="#fff" stroke-opacity=".14" stroke-width=".3"/>
<rect x="153.40" y="474.80" width="11.29" height="6.90" fill="#0000cd" stroke="#fff" stroke-opacity=".14" stroke-width=".3"/>
<rect x="221.14" y="474.80" width="11.29" height="6.90" fill="#0000cd" stroke="#fff" stroke-opacity=".14" stroke-width=".3"/>
<rect x="232.43" y="474.80" width="11.29" height="6.90" fill="#0000cd" stroke="#fff" stroke-opacity=".14" stroke-width=".3"/>
<rect x="153.40" y="481.70" width="11.29" height="6.90" fill="#ff7f24" stroke="#fff" stroke-opacity=".14" stroke-width=".3"/>
<rect x="164.69" y="481.70" width="11.29" height="6.90" fill="#ff7f24" stroke="#fff" stroke-opacity=".14" stroke-width=".3"/>
<rect x="175.98" y="481.70" width="11.29" height="6.90" fill="#ff7f24" stroke="#fff" stroke-opacity=".14" stroke-width=".3"/>
<rect x="153.40" y="488.60" width="11.29" height="6.90" fill="#0000cd" stroke="#fff" stroke-opacity=".14" stroke-width=".3"/>
<rect x="266.30" y="488.60" width="11.29" height="6.90" fill="#0000cd" stroke="#fff" stroke-opacity=".14" stroke-width=".3"/>
<rect x="153.40" y="495.50" width="11.29" height="6.90" fill="#0000cd" stroke="#fff" stroke-opacity=".14" stroke-width=".3"/>
<rect x="266.30" y="495.50" width="11.29" height="6.90" fill="#0000cd" stroke="#fff" stroke-opacity=".14" stroke-width=".3"/>
<rect x="153.40" y="502.40" width="11.29" height="6.90" fill="#ff7f24" stroke="#fff" stroke-opacity=".14" stroke-width=".3"/>
<rect x="300.17" y="502.40" width="11.29" height="6.90" fill="#ff7f24" stroke="#fff" stroke-opacity=".14" stroke-width=".3"/>
<rect x="153.40" y="509.30" width="11.29" height="6.90" fill="#ff7f24" stroke="#fff" stroke-opacity=".14" stroke-width=".3"/>
<rect x="153.40" y="516.20" width="11.29" height="6.90" fill="#0000cd" stroke="#fff" stroke-opacity=".14" stroke-width=".3"/>
<path d="M152.8 177.5H481.71" fill="none" stroke="#9a9a9a" stroke-width=".8"/>
<path d="M152.8 177.5V523.40" fill="none" stroke="#8a8590" stroke-width="1"/>
<path d="M481.71 177.1V523.40H152.3" fill="none" stroke="#4a4a4a" stroke-width=".9"/>
<path d="M21.5 177.45H153" stroke="#000" stroke-width="1.1"/>
<path d="M153.1 44.5V177.5" stroke="#888" stroke-width="1.5"/>
<rect x="155.00" y="48.60" width="9.8" height="127.00" fill="#7f7f7f"/>
<rect x="166.25" y="66.38" width="9.8" height="109.22" fill="#7f7f7f"/>
<rect x="177.49" y="74.00" width="9.8" height="101.60" fill="#7f7f7f"/>
<rect x="188.74" y="107.02" width="9.8" height="68.58" fill="#7f7f7f"/>
<rect x="199.98" y="112.10" width="9.8" height="63.50" fill="#7f7f7f"/>
<rect x="211.23" y="124.80" width="9.8" height="50.80" fill="#7f7f7f"/>
<rect x="222.48" y="127.34" width="9.8" height="48.26" fill="#7f7f7f"/>
<rect x="233.72" y="134.96" width="9.8" height="40.64" fill="#7f7f7f"/>
<rect x="244.97" y="134.96" width="9.8" height="40.64" fill="#7f7f7f"/>
<rect x="256.21" y="140.04" width="9.8" height="35.56" fill="#7f7f7f"/>
<rect x="267.46" y="140.04" width="9.8" height="35.56" fill="#7f7f7f"/>
<rect x="278.71" y="142.58" width="9.8" height="33.02" fill="#7f7f7f"/>
<rect x="289.95" y="147.66" width="9.8" height="27.94" fill="#7f7f7f"/>
<rect x="301.20" y="147.66" width="9.8" height="27.94" fill="#7f7f7f"/>
<rect x="312.44" y="155.28" width="9.8" height="20.32" fill="#7f7f7f"/>
<rect x="323.69" y="157.82" width="9.8" height="17.78" fill="#7f7f7f"/>
<rect x="334.94" y="157.82" width="9.8" height="17.78" fill="#7f7f7f"/>
<rect x="346.18" y="160.36" width="9.8" height="15.24" fill="#7f7f7f"/>
<rect x="357.43" y="162.90" width="9.8" height="12.70" fill="#7f7f7f"/>
<rect x="368.67" y="162.90" width="9.8" height="12.70" fill="#7f7f7f"/>
<rect x="379.92" y="162.90" width="9.8" height="12.70" fill="#7f7f7f"/>
<rect x="391.17" y="165.44" width="9.8" height="10.16" fill="#7f7f7f"/>
<rect x="402.41" y="165.44" width="9.8" height="10.16" fill="#7f7f7f"/>
<rect x="413.66" y="165.44" width="9.8" height="10.16" fill="#7f7f7f"/>
<rect x="424.90" y="165.44" width="9.8" height="10.16" fill="#7f7f7f"/>
<rect x="436.15" y="167.98" width="9.8" height="7.62" fill="#7f7f7f"/>
<rect x="447.40" y="170.52" width="9.8" height="5.08" fill="#7f7f7f"/>
<rect x="458.64" y="170.52" width="9.8" height="5.08" fill="#7f7f7f"/>
<rect x="469.89" y="173.06" width="9.8" height="2.54" fill="#7f7f7f"/>
<text x="151.6" y="51.20" font-size="7.2" text-anchor="end" fill="#333">100</text>
<text x="151.6" y="82.95" font-size="7.2" text-anchor="end" fill="#333">75</text>
<text x="151.6" y="114.70" font-size="7.2" text-anchor="end" fill="#333">50</text>
<text x="151.6" y="146.45" font-size="7.2" text-anchor="end" fill="#333">25</text>
<text transform="translate(165.70 44.30) rotate(-45)" font-size="9.2" font-style="italic" fill="#ee2222" stroke="#ee2222" stroke-width=".22">C. venustus</text>
<text transform="translate(175.18 63.58) rotate(-45)" font-size="9.2" font-style="italic" fill="#111" stroke="#111" stroke-width=".22">C. haematopotus</text>
<text transform="translate(190.25 67.90) rotate(-45)" font-size="9.2" font-style="italic" fill="#ee2222" stroke="#ee2222" stroke-width=".22">C. stellifer</text>
<text transform="translate(199.53 102.72) rotate(-45)" font-size="9.2" font-style="italic" fill="#111" stroke="#111" stroke-width=".22">C. arboricola</text>
<text transform="translate(210.80 107.80) rotate(-45)" font-size="9.2" font-style="italic" fill="#ee2222" stroke="#ee2222" stroke-width=".22">C. debilipalpis</text>
<text transform="translate(222.08 120.50) rotate(-45)" font-size="9.2" font-style="italic" fill="#111" stroke="#111" stroke-width=".22">C. spinosus</text>
<text transform="translate(233.36 123.04) rotate(-45)" font-size="9.2" font-style="italic" fill="#ee2222" stroke="#ee2222" stroke-width=".22">C. pallidicornis</text>
<text transform="translate(244.63 130.66) rotate(-45)" font-size="9.2" font-style="italic" fill="#111" stroke="#111" stroke-width=".22">C. bickleyi</text>
<text transform="translate(255.91 130.66) rotate(-45)" font-size="9.2" font-style="italic" fill="#111" stroke="#111" stroke-width=".22">C. paraensis</text>
<text transform="translate(266.28 136.44) rotate(-45)" font-size="9.2" font-style="italic" fill="#111" stroke="#111" stroke-width=".22">C. crepuscularis</text>
<text transform="translate(280.46 133.44) rotate(-45)" font-size="9.2" font-style="italic" fill="#ee2222" stroke="#ee2222" stroke-width=".22">C. insignis</text>
<text transform="translate(289.74 138.28) rotate(-45)" font-size="9.2" font-style="italic" fill="#ee2222" stroke="#ee2222" stroke-width=".22">C. biguttatus</text>
<text transform="translate(301.81 142.16) rotate(-45)" font-size="9.2" font-style="italic" fill="#111" stroke="#111" stroke-width=".22">C. loisae</text>
<text transform="translate(313.59 142.06) rotate(-45)" font-size="9.2" font-style="italic" fill="#111" stroke="#111" stroke-width=".22">C. piliferus</text>
<text transform="translate(323.56 150.98) rotate(-45)" font-size="9.2" font-style="italic" fill="#111" stroke="#111" stroke-width=".22">C. scanloni</text>
<text transform="translate(334.84 153.52) rotate(-45)" font-size="9.2" font-style="italic" fill="#111" stroke="#111" stroke-width=".22">C. hinmani</text>
<text transform="translate(346.12 153.52) rotate(-45)" font-size="9.2" font-style="italic" fill="#111" stroke="#111" stroke-width=".22">C. villosipennis</text>
<text transform="translate(357.39 156.06) rotate(-45)" font-size="9.2" font-style="italic" fill="#111" stroke="#111" stroke-width=".22">C. baueri</text>
<text transform="translate(365.67 161.60) rotate(-45)" font-size="9.2" font-style="italic" fill="#111" stroke="#111" stroke-width=".22">C. alachua.sanguisuga</text>
<text transform="translate(378.09 160.65) rotate(-45)" font-size="9.2" font-style="italic" fill="#111" stroke="#111" stroke-width=".22">C. chewaclae</text>
<text transform="translate(390.47 159.35) rotate(-45)" font-size="9.2" font-style="italic" fill="#111" stroke="#111" stroke-width=".22">C. torreyae</text>
<text transform="translate(402.50 161.14) rotate(-45)" font-size="9.2" font-style="italic" fill="#111" stroke="#111" stroke-width=".22">C. furens</text>
<text transform="translate(413.77 161.14) rotate(-45)" font-size="9.2" font-style="italic" fill="#111" stroke="#111" stroke-width=".22">C. guttipennis</text>
<text transform="translate(425.05 161.14) rotate(-45)" font-size="9.2" font-style="italic" fill="#111" stroke="#111" stroke-width=".22">C. kirbyi</text>
<text transform="translate(436.32 161.14) rotate(-45)" font-size="9.2" font-style="italic" fill="#111" stroke="#111" stroke-width=".22">C. nanus</text>
<text transform="translate(447.60 163.68) rotate(-45)" font-size="9.2" font-style="italic" fill="#111" stroke="#111" stroke-width=".22">C. beckae</text>
<text transform="translate(458.88 166.22) rotate(-45)" font-size="9.2" font-style="italic" fill="#111" stroke="#111" stroke-width=".22">C. ousairani</text>
<text transform="translate(470.15 166.22) rotate(-45)" font-size="9.2" font-style="italic" fill="#111" stroke="#111" stroke-width=".22">C. variipennis</text>
<text transform="translate(481.43 168.76) rotate(-45)" font-size="9.2" font-style="italic" fill="#111" stroke="#111" stroke-width=".22">C. pusillus</text>
<rect x="32.02" y="178.47" width="115.33" height="6.15" fill="#7f7f7f"/>
<rect x="32.02" y="185.38" width="115.33" height="6.15" fill="#7f7f7f"/>
<rect x="38.09" y="192.28" width="109.26" height="6.15" fill="#7f7f7f"/>
<rect x="56.30" y="199.18" width="91.05" height="6.15" fill="#7f7f7f"/>
<rect x="62.37" y="206.08" width="84.98" height="6.15" fill="#7f7f7f"/>
<rect x="68.44" y="212.98" width="78.91" height="6.15" fill="#7f7f7f"/>
<rect x="68.44" y="219.88" width="78.91" height="6.15" fill="#7f7f7f"/>
<rect x="80.58" y="226.78" width="66.77" height="6.15" fill="#7f7f7f"/>
<rect x="80.58" y="233.68" width="66.77" height="6.15" fill="#7f7f7f"/>
<rect x="86.65" y="240.57" width="60.70" height="6.15" fill="#7f7f7f"/>
<rect x="86.65" y="247.48" width="60.70" height="6.15" fill="#7f7f7f"/>
<rect x="86.65" y="254.38" width="60.70" height="6.15" fill="#7f7f7f"/>
<rect x="86.65" y="261.28" width="60.70" height="6.15" fill="#7f7f7f"/>
<rect x="92.72" y="268.18" width="54.63" height="6.15" fill="#7f7f7f"/>
<rect x="92.72" y="275.07" width="54.63" height="6.15" fill="#7f7f7f"/>
<rect x="92.72" y="281.98" width="54.63" height="6.15" fill="#7f7f7f"/>
<rect x="92.72" y="288.88" width="54.63" height="6.15" fill="#7f7f7f"/>
<rect x="92.72" y="295.78" width="54.63" height="6.15" fill="#7f7f7f"/>
<rect x="92.72" y="302.68" width="54.63" height="6.15" fill="#7f7f7f"/>
<rect x="92.72" y="309.57" width="54.63" height="6.15" fill="#7f7f7f"/>
<rect x="98.79" y="316.48" width="48.56" height="6.15" fill="#7f7f7f"/>
<rect x="98.79" y="323.38" width="48.56" height="6.15" fill="#7f7f7f"/>
<rect x="98.79" y="330.28" width="48.56" height="6.15" fill="#7f7f7f"/>
<rect x="98.79" y="337.18" width="48.56" height="6.15" fill="#7f7f7f"/>
<rect x="98.79" y="344.07" width="48.56" height="6.15" fill="#7f7f7f"/>
<rect x="104.86" y="350.98" width="42.49" height="6.15" fill="#7f7f7f"/>
<rect x="104.86" y="357.88" width="42.49" height="6.15" fill="#7f7f7f"/>
<rect x="110.93" y="364.78" width="36.42" height="6.15" fill="#7f7f7f"/>
<rect x="110.93" y="371.68" width="36.42" height="6.15" fill="#7f7f7f"/>
<rect x="110.93" y="378.57" width="36.42" height="6.15" fill="#7f7f7f"/>
<rect x="110.93" y="385.48" width="36.42" height="6.15" fill="#7f7f7f"/>
<rect x="110.93" y="392.38" width="36.42" height="6.15" fill="#7f7f7f"/>
<rect x="110.93" y="399.28" width="36.42" height="6.15" fill="#7f7f7f"/>
<rect x="117.00" y="406.18" width="30.35" height="6.15" fill="#7f7f7f"/>
<rect x="117.00" y="413.07" width="30.35" height="6.15" fill="#7f7f7f"/>
<rect x="117.00" y="419.98" width="30.35" height="6.15" fill="#7f7f7f"/>
<rect x="117.00" y="426.88" width="30.35" height="6.15" fill="#7f7f7f"/>
<rect x="117.00" y="433.78" width="30.35" height="6.15" fill="#7f7f7f"/>
<rect x="117.00" y="440.68" width="30.35" height="6.15" fill="#7f7f7f"/>
<rect x="123.07" y="447.57" width="24.28" height="6.15" fill="#7f7f7f"/>
<rect x="123.07" y="454.47" width="24.28" height="6.15" fill="#7f7f7f"/>
<rect x="123.07" y="461.38" width="24.28" height="6.15" fill="#7f7f7f"/>
<rect x="123.07" y="468.28" width="24.28" height="6.15" fill="#7f7f7f"/>
<rect x="129.14" y="475.18" width="18.21" height="6.15" fill="#7f7f7f"/>
<rect x="129.14" y="482.07" width="18.21" height="6.15" fill="#7f7f7f"/>
<rect x="135.21" y="488.97" width="12.14" height="6.15" fill="#7f7f7f"/>
<rect x="135.21" y="495.88" width="12.14" height="6.15" fill="#7f7f7f"/>
<rect x="135.21" y="502.78" width="12.14" height="6.15" fill="#7f7f7f"/>
<rect x="141.28" y="509.68" width="6.07" height="6.15" fill="#7f7f7f"/>
<rect x="141.28" y="516.57" width="6.07" height="6.15" fill="#7f7f7f"/>
<text x="30.82" y="184.55" font-size="6.8" text-anchor="end" textLength="9.3" lengthAdjust="spacingAndGlyphs" fill="#111" stroke="#111" stroke-width=".08">0.66</text>
<text x="36.89" y="198.35" font-size="6.8" text-anchor="end" textLength="9.3" lengthAdjust="spacingAndGlyphs" fill="#111" stroke="#111" stroke-width=".08">0.62</text>
<text x="55.10" y="205.25" font-size="6.8" text-anchor="end" textLength="9.3" lengthAdjust="spacingAndGlyphs" fill="#111" stroke="#111" stroke-width=".08">0.52</text>
<text x="61.17" y="212.15" font-size="6.8" text-anchor="end" textLength="9.3" lengthAdjust="spacingAndGlyphs" fill="#111" stroke="#111" stroke-width=".08">0.48</text>
<text x="67.24" y="219.05" font-size="6.8" text-anchor="end" textLength="9.3" lengthAdjust="spacingAndGlyphs" fill="#111" stroke="#111" stroke-width=".08">0.45</text>
<text x="79.38" y="232.85" font-size="6.8" text-anchor="end" textLength="9.3" lengthAdjust="spacingAndGlyphs" fill="#111" stroke="#111" stroke-width=".08">0.38</text>
<text x="85.45" y="253.55" font-size="6.8" text-anchor="end" textLength="9.3" lengthAdjust="spacingAndGlyphs" fill="#111" stroke="#111" stroke-width=".08">0.34</text>
<text x="91.52" y="294.95" font-size="6.8" text-anchor="end" textLength="9.3" lengthAdjust="spacingAndGlyphs" fill="#111" stroke="#111" stroke-width=".08">0.31</text>
<text x="97.59" y="336.35" font-size="6.8" text-anchor="end" textLength="9.3" lengthAdjust="spacingAndGlyphs" fill="#111" stroke="#111" stroke-width=".08">0.28</text>
<text x="103.66" y="357.05" font-size="6.8" text-anchor="end" textLength="9.3" lengthAdjust="spacingAndGlyphs" fill="#111" stroke="#111" stroke-width=".08">0.24</text>
<text x="109.73" y="384.65" font-size="6.8" text-anchor="end" textLength="9.3" lengthAdjust="spacingAndGlyphs" fill="#111" stroke="#111" stroke-width=".08">0.21</text>
<text x="115.80" y="426.05" font-size="6.8" text-anchor="end" textLength="9.3" lengthAdjust="spacingAndGlyphs" fill="#111" stroke="#111" stroke-width=".08">0.17</text>
<text x="121.87" y="460.55" font-size="6.8" text-anchor="end" textLength="9.3" lengthAdjust="spacingAndGlyphs" fill="#111" stroke="#111" stroke-width=".08">0.14</text>
<text x="127.94" y="481.25" font-size="6.8" text-anchor="end" textLength="6.7" lengthAdjust="spacingAndGlyphs" fill="#111" stroke="#111" stroke-width=".08">0.1</text>
<text x="134.01" y="501.95" font-size="6.8" text-anchor="end" textLength="9.3" lengthAdjust="spacingAndGlyphs" fill="#111" stroke="#111" stroke-width=".08">0.07</text>
<text x="140.08" y="515.75" font-size="6.8" text-anchor="end" textLength="9.3" lengthAdjust="spacingAndGlyphs" fill="#111" stroke="#111" stroke-width=".08">0.03</text>
<text x="26.20" y="175.4" font-size="9.4" text-anchor="middle" textLength="8.0" lengthAdjust="spacingAndGlyphs" fill="#222">20</text>
<text x="56.52" y="175.4" font-size="9.4" text-anchor="middle" textLength="8.0" lengthAdjust="spacingAndGlyphs" fill="#222">15</text>
<text x="86.85" y="175.4" font-size="9.4" text-anchor="middle" textLength="8.0" lengthAdjust="spacingAndGlyphs" fill="#222">10</text>
<text x="117.17" y="175.4" font-size="9.4" text-anchor="middle" textLength="4.0" lengthAdjust="spacingAndGlyphs" fill="#222">5</text>
<text x="147.50" y="175.4" font-size="9.4" text-anchor="middle" textLength="4.0" lengthAdjust="spacingAndGlyphs" fill="#222">0</text>
<text transform="rotate(.03 491 181.5)" x="491" y="184.35" font-size="8.0" text-anchor="middle" textLength="8.8" lengthAdjust="spacingAndGlyphs" fill="#000" stroke="#000" stroke-width=".1">16</text>
<text transform="rotate(.03 491 188.4)" x="491" y="191.25" font-size="8.0" text-anchor="middle" textLength="8.8" lengthAdjust="spacingAndGlyphs" fill="#000" stroke="#000" stroke-width=".1">17</text>
<text transform="rotate(.03 491 195.3)" x="491" y="198.15" font-size="8.0" text-anchor="middle" textLength="8.8" lengthAdjust="spacingAndGlyphs" fill="#000" stroke="#000" stroke-width=".1">19</text>
<text transform="rotate(.03 491 202.2)" x="491" y="205.05" font-size="8.0" text-anchor="middle" textLength="8.8" lengthAdjust="spacingAndGlyphs" fill="#000" stroke="#000" stroke-width=".1">15</text>
<text transform="rotate(.03 491 209.2)" x="491" y="211.95" font-size="8.0" text-anchor="middle" textLength="8.8" lengthAdjust="spacingAndGlyphs" fill="#000" stroke="#000" stroke-width=".1">21</text>
<text transform="rotate(.03 491 216.1)" x="491" y="218.85" font-size="8.0" text-anchor="middle" textLength="8.8" lengthAdjust="spacingAndGlyphs" fill="#000" stroke="#000" stroke-width=".1">18</text>
<text transform="rotate(.03 491 222.9)" x="491" y="225.75" font-size="8.0" text-anchor="middle" textLength="8.8" lengthAdjust="spacingAndGlyphs" fill="#000" stroke="#000" stroke-width=".1">20</text>
<text transform="rotate(.03 491 229.8)" x="491" y="232.65" font-size="8.0" text-anchor="middle" textLength="8.8" lengthAdjust="spacingAndGlyphs" fill="#000" stroke="#000" stroke-width=".1">14</text>
<text transform="rotate(.03 491 236.8)" x="491" y="239.55" font-size="8.0" text-anchor="middle" textLength="8.8" lengthAdjust="spacingAndGlyphs" fill="#000" stroke="#000" stroke-width=".1">30</text>
<text transform="rotate(.03 491 243.6)" x="491" y="246.45" font-size="8.0" text-anchor="middle" textLength="8.8" lengthAdjust="spacingAndGlyphs" fill="#000" stroke="#000" stroke-width=".1">23</text>
<text transform="rotate(.03 491 250.6)" x="491" y="253.35" font-size="8.0" text-anchor="middle" textLength="8.8" lengthAdjust="spacingAndGlyphs" fill="#000" stroke="#000" stroke-width=".1">28</text>
<text transform="rotate(.03 491 257.4)" x="491" y="260.25" font-size="8.0" text-anchor="middle" textLength="8.8" lengthAdjust="spacingAndGlyphs" fill="#000" stroke="#000" stroke-width=".1">34</text>
<text transform="rotate(.03 491 264.4)" x="491" y="267.15" font-size="8.0" text-anchor="middle" textLength="8.8" lengthAdjust="spacingAndGlyphs" fill="#000" stroke="#000" stroke-width=".1">35</text>
<text transform="rotate(.03 491 271.2)" x="491" y="274.05" font-size="8.0" text-anchor="middle" textLength="8.8" lengthAdjust="spacingAndGlyphs" fill="#000" stroke="#000" stroke-width=".1">11</text>
<text transform="rotate(.03 491 278.1)" x="491" y="280.95" font-size="8.0" text-anchor="middle" textLength="8.8" lengthAdjust="spacingAndGlyphs" fill="#000" stroke="#000" stroke-width=".1">13</text>
<text transform="rotate(.03 491 285.1)" x="491" y="287.85" font-size="8.0" text-anchor="middle" textLength="8.8" lengthAdjust="spacingAndGlyphs" fill="#000" stroke="#000" stroke-width=".1">22</text>
<text transform="rotate(.03 491 291.9)" x="491" y="294.75" font-size="8.0" text-anchor="middle" textLength="8.8" lengthAdjust="spacingAndGlyphs" fill="#000" stroke="#000" stroke-width=".1">24</text>
<text transform="rotate(.03 491 298.9)" x="491" y="301.65" font-size="8.0" text-anchor="middle" textLength="8.8" lengthAdjust="spacingAndGlyphs" fill="#000" stroke="#000" stroke-width=".1">26</text>
<text transform="rotate(.03 491 305.8)" x="491" y="308.55" font-size="8.0" text-anchor="middle" textLength="8.8" lengthAdjust="spacingAndGlyphs" fill="#000" stroke="#000" stroke-width=".1">32</text>
<text transform="rotate(.03 491 312.6)" x="491" y="315.45" font-size="8.0" text-anchor="middle" textLength="8.8" lengthAdjust="spacingAndGlyphs" fill="#000" stroke="#000" stroke-width=".1">40</text>
<text transform="rotate(.03 491 319.6)" x="491" y="322.35" font-size="8.0" text-anchor="middle" textLength="8.8" lengthAdjust="spacingAndGlyphs" fill="#000" stroke="#000" stroke-width=".1">12</text>
<text transform="rotate(.03 491 326.4)" x="491" y="329.25" font-size="8.0" text-anchor="middle" textLength="8.8" lengthAdjust="spacingAndGlyphs" fill="#000" stroke="#000" stroke-width=".1">29</text>
<text transform="rotate(.03 491 333.4)" x="491" y="336.15" font-size="8.0" text-anchor="middle" textLength="8.8" lengthAdjust="spacingAndGlyphs" fill="#000" stroke="#000" stroke-width=".1">31</text>
<text transform="rotate(.03 491 340.2)" x="491" y="343.05" font-size="8.0" text-anchor="middle" textLength="8.8" lengthAdjust="spacingAndGlyphs" fill="#000" stroke="#000" stroke-width=".1">38</text>
<text transform="rotate(.03 491 347.1)" x="491" y="349.95" font-size="8.0" text-anchor="middle" textLength="8.8" lengthAdjust="spacingAndGlyphs" fill="#000" stroke="#000" stroke-width=".1">39</text>
<text transform="rotate(.03 491 354.1)" x="491" y="356.85" font-size="8.0" text-anchor="middle" textLength="4.4" lengthAdjust="spacingAndGlyphs" fill="#000" stroke="#000" stroke-width=".1">8</text>
<text transform="rotate(.03 491 361.0)" x="491" y="363.75" font-size="8.0" text-anchor="middle" textLength="8.8" lengthAdjust="spacingAndGlyphs" fill="#000" stroke="#000" stroke-width=".1">27</text>
<text transform="rotate(.03 491 367.9)" x="491" y="370.65" font-size="8.0" text-anchor="middle" textLength="4.4" lengthAdjust="spacingAndGlyphs" fill="#000" stroke="#000" stroke-width=".1">7</text>
<text transform="rotate(.03 491 374.8)" x="491" y="377.55" font-size="8.0" text-anchor="middle" textLength="8.8" lengthAdjust="spacingAndGlyphs" fill="#000" stroke="#000" stroke-width=".1">25</text>
<text transform="rotate(.03 491 381.6)" x="491" y="384.45" font-size="8.0" text-anchor="middle" textLength="8.8" lengthAdjust="spacingAndGlyphs" fill="#000" stroke="#000" stroke-width=".1">33</text>
<text transform="rotate(.03 491 388.6)" x="491" y="391.35" font-size="8.0" text-anchor="middle" textLength="8.8" lengthAdjust="spacingAndGlyphs" fill="#000" stroke="#000" stroke-width=".1">41</text>
<text transform="rotate(.03 491 395.5)" x="491" y="398.25" font-size="8.0" text-anchor="middle" textLength="8.8" lengthAdjust="spacingAndGlyphs" fill="#000" stroke="#000" stroke-width=".1">47</text>
<text transform="rotate(.03 491 402.4)" x="491" y="405.15" font-size="8.0" text-anchor="middle" textLength="8.8" lengthAdjust="spacingAndGlyphs" fill="#000" stroke="#000" stroke-width=".1">48</text>
<text transform="rotate(.03 491 409.2)" x="491" y="412.05" font-size="8.0" text-anchor="middle" textLength="4.4" lengthAdjust="spacingAndGlyphs" fill="#000" stroke="#000" stroke-width=".1">9</text>
<text transform="rotate(.03 491 416.1)" x="491" y="418.95" font-size="8.0" text-anchor="middle" textLength="8.8" lengthAdjust="spacingAndGlyphs" fill="#000" stroke="#000" stroke-width=".1">10</text>
<text transform="rotate(.03 491 423.1)" x="491" y="425.85" font-size="8.0" text-anchor="middle" textLength="8.8" lengthAdjust="spacingAndGlyphs" fill="#000" stroke="#000" stroke-width=".1">36</text>
<text transform="rotate(.03 491 430.0)" x="491" y="432.75" font-size="8.0" text-anchor="middle" textLength="8.8" lengthAdjust="spacingAndGlyphs" fill="#000" stroke="#000" stroke-width=".1">37</text>
<text transform="rotate(.03 491 436.9)" x="491" y="439.65" font-size="8.0" text-anchor="middle" textLength="8.8" lengthAdjust="spacingAndGlyphs" fill="#000" stroke="#000" stroke-width=".1">43</text>
<text transform="rotate(.03 491 443.8)" x="491" y="446.55" font-size="8.0" text-anchor="middle" textLength="8.8" lengthAdjust="spacingAndGlyphs" fill="#000" stroke="#000" stroke-width=".1">49</text>
<text transform="rotate(.03 491 450.6)" x="491" y="453.45" font-size="8.0" text-anchor="middle" textLength="4.4" lengthAdjust="spacingAndGlyphs" fill="#000" stroke="#000" stroke-width=".1">1</text>
<text transform="rotate(.03 491 457.5)" x="491" y="460.35" font-size="8.0" text-anchor="middle" textLength="4.4" lengthAdjust="spacingAndGlyphs" fill="#000" stroke="#000" stroke-width=".1">6</text>
<text transform="rotate(.03 491 464.5)" x="491" y="467.25" font-size="8.0" text-anchor="middle" textLength="8.8" lengthAdjust="spacingAndGlyphs" fill="#000" stroke="#000" stroke-width=".1">42</text>
<text transform="rotate(.03 491 471.4)" x="491" y="474.15" font-size="8.0" text-anchor="middle" textLength="8.8" lengthAdjust="spacingAndGlyphs" fill="#000" stroke="#000" stroke-width=".1">45</text>
<text transform="rotate(.03 491 478.2)" x="491" y="481.05" font-size="8.0" text-anchor="middle" textLength="4.4" lengthAdjust="spacingAndGlyphs" fill="#000" stroke="#000" stroke-width=".1">5</text>
<text transform="rotate(.03 491 485.1)" x="491" y="487.95" font-size="8.0" text-anchor="middle" textLength="8.8" lengthAdjust="spacingAndGlyphs" fill="#000" stroke="#000" stroke-width=".1">44</text>
<text transform="rotate(.03 491 492.0)" x="491" y="494.85" font-size="8.0" text-anchor="middle" textLength="4.4" lengthAdjust="spacingAndGlyphs" fill="#000" stroke="#000" stroke-width=".1">3</text>
<text transform="rotate(.03 491 499.0)" x="491" y="501.75" font-size="8.0" text-anchor="middle" textLength="4.4" lengthAdjust="spacingAndGlyphs" fill="#000" stroke="#000" stroke-width=".1">4</text>
<text transform="rotate(.03 491 505.9)" x="491" y="508.65" font-size="8.0" text-anchor="middle" textLength="8.8" lengthAdjust="spacingAndGlyphs" fill="#000" stroke="#000" stroke-width=".1">46</text>
<text transform="rotate(.03 491 512.8)" x="491" y="515.55" font-size="8.0" text-anchor="middle" textLength="8.8" lengthAdjust="spacingAndGlyphs" fill="#000" stroke="#000" stroke-width=".1">50</text>
<text transform="rotate(.03 491 519.6)" x="491" y="522.45" font-size="8.0" text-anchor="middle" textLength="4.4" lengthAdjust="spacingAndGlyphs" fill="#000" stroke="#000" stroke-width=".1">2</text>
<text x="48.2" y="164.1" font-size="13.4" font-weight="bold" textLength="77" lengthAdjust="spacingAndGlyphs" fill="#111">Weekly Richness</text>
<text transform="translate(134.5 141.3) rotate(-90)" font-size="10.95" font-weight="bold" fill="#111">Weekly Occurrance (%)</text>
<text transform="translate(507.5 267.6) rotate(90)" font-size="12.6" font-weight="bold" fill="#111">Epidemiological weeks</text>
<text x="105.5" y="33.6" font-size="10.6" fill="#111">B</text>
<text x="14.6" y="163.5" font-size="10.6" fill="#111">C</text>
<text x="505" y="186.7" font-size="10.8" fill="#111">A</text>
<rect x="499.4" y="472.4" width="45.3" height="50.8" fill="#fff" stroke="#222" stroke-width=".9"/>
<rect x="504" y="477.00" width="9.9" height="10.5" fill="#0000cd"/>
<text x="514.4" y="484.60" font-size="7.2" fill="#222">winter</text>
<rect x="504" y="487.50" width="9.9" height="10.5" fill="#66cd00"/>
<text x="514.4" y="495.10" font-size="7.2" fill="#222">spring</text>
<rect x="504" y="498.00" width="9.9" height="10.5" fill="#ee2c2c"/>
<text x="514.4" y="505.60" font-size="7.2" fill="#222">summer</text>
<rect x="504" y="508.50" width="9.9" height="10.5" fill="#ff7f24"/>
<text x="514.4" y="516.10" font-size="7.2" fill="#222">fall</text>
<path d="M376.2 13.1V72.7H508" fill="none" stroke="#777" stroke-width=".55"/>
<path d="M375.0 14.8H376.2" stroke="#333" stroke-width=".5"/>
<text x="374.4" y="16.20" font-size="3.6" text-anchor="end" fill="#222">0.75</text>
<path d="M375.0 33.199999999999996H376.2" stroke="#333" stroke-width=".5"/>
<text x="374.4" y="34.60" font-size="3.6" text-anchor="end" fill="#222">0.50</text>
<path d="M375.0 52.099999999999994H376.2" stroke="#333" stroke-width=".5"/>
<text x="374.4" y="53.50" font-size="3.6" text-anchor="end" fill="#222">0.25</text>
<path d="M375.0 70.39999999999999H376.2" stroke="#333" stroke-width=".5"/>
<text x="374.4" y="71.80" font-size="3.6" text-anchor="end" fill="#222">0.00</text>
<path d="M405.3 72.7v1.2" stroke="#333" stroke-width=".4"/>
<text x="405.3" y="78.50" font-size="3.6" text-anchor="middle" fill="#222">51</text>
<path d="M443.1 72.7v1.2" stroke="#333" stroke-width=".4"/>
<text x="443.1" y="78.50" font-size="3.6" text-anchor="middle" fill="#222">54</text>
<path d="M481.5 72.7v1.2" stroke="#333" stroke-width=".4"/>
<text x="481.5" y="78.50" font-size="3.6" text-anchor="middle" fill="#222">57</text>
<path d="M381.4 70.1C383.5 70.1 389.7 70.1 393.6 69.8C397.6 69.6 401.6 69.2 405.3 68.7C408.9 68.1 412.3 67.6 415.5 66.3C418.6 65.1 421.3 63.1 424.2 61.1C427.1 59.1 430.5 56.1 432.9 54.4C435.3 52.7 437.3 51.3 438.7 50.6C440.2 49.9 440.4 49.9 441.6 50.0C442.8 50.1 444.3 50.7 446.0 51.2C447.7 51.7 450.1 52.8 451.8 52.9C453.5 53.1 454.8 52.6 456.2 52.4C457.5 52.1 458.7 51.5 460.0 51.5C461.3 51.5 462.5 51.5 464.0 52.4C465.6 53.2 467.4 55.0 469.3 56.7C471.1 58.4 473.2 60.9 475.1 62.5C477.0 64.2 479.0 65.6 480.9 66.6C482.8 67.6 484.3 68.1 486.7 68.7C489.2 69.2 492.1 69.6 495.5 69.8C498.8 70.1 505.2 70.1 507.1 70.1" fill="none" stroke="#222" stroke-width=".75"/>
<path d="M441.6 13.1V72.7" stroke="#f00" stroke-width="1.8"/>
<text x="445.4" y="24" font-size="6.4" font-weight="bold" font-style="italic" textLength="34.1" lengthAdjust="spacingAndGlyphs" fill="#000" stroke="#000" stroke-width=".18">NODF=54.5</text>
<text x="445.4" y="32.8" font-size="6.4" font-weight="bold" font-style="italic" textLength="37.8" lengthAdjust="spacingAndGlyphs" fill="#000" stroke="#000" stroke-width=".18">p.value=0.65</text>
<text transform="translate(362.6 55.6) rotate(-90)" font-size="7.3" font-weight="bold" fill="#111">Density</text>
<text y="86.6" font-size="7.5" font-weight="bold" fill="#111"><tspan x="408.1" textLength="12.6" lengthAdjust="spacingAndGlyphs">null</tspan><tspan x="427.7" textLength="20" lengthAdjust="spacingAndGlyphs">NODF</tspan><tspan x="448.4" dy="1.7" font-size="5.4" textLength="7.4" lengthAdjust="spacingAndGlyphs">col</tspan><tspan x="460.1" dy="-1.7" textLength="19.4" lengthAdjust="spacingAndGlyphs">score</tspan></text>
<path d="M24.9 383.8V507.2H98" fill="none" stroke="#777" stroke-width=".55"/>
<path d="M23.7 388.8H24.9" stroke="#333" stroke-width=".5"/>
<text x="23.099999999999998" y="390.20" font-size="3.6" text-anchor="end" fill="#222">0.75</text>
<path d="M23.7 426.5H24.9" stroke="#333" stroke-width=".5"/>
<text x="23.099999999999998" y="427.90" font-size="3.6" text-anchor="end" fill="#222">0.50</text>
<path d="M23.7 463.90000000000003H24.9" stroke="#333" stroke-width=".5"/>
<text x="23.099999999999998" y="465.30" font-size="3.6" text-anchor="end" fill="#222">0.25</text>
<path d="M23.7 501.6H24.9" stroke="#333" stroke-width=".5"/>
<text x="23.099999999999998" y="503.00" font-size="3.6" text-anchor="end" fill="#222">0.00</text>
<path d="M27.8 507.2v1.2" stroke="#333" stroke-width=".4"/>
<text x="27.8" y="511.90" font-size="3.6" text-anchor="middle" fill="#222">68</text>
<path d="M50.3 507.2v1.2" stroke="#333" stroke-width=".4"/>
<text x="50.3" y="511.90" font-size="3.6" text-anchor="middle" fill="#222">70</text>
<path d="M73.1 507.2v1.2" stroke="#333" stroke-width=".4"/>
<text x="73.1" y="511.90" font-size="3.6" text-anchor="middle" fill="#222">72</text>
<path d="M95.9 507.2v1.2" stroke="#333" stroke-width=".4"/>
<text x="95.9" y="511.90" font-size="3.6" text-anchor="middle" fill="#222">74</text>
<path d="M27.8 501.3C29.2 501.3 34.4 501.4 36.6 501.3C38.8 501.3 39.7 501.2 40.9 501.0C42.2 500.9 42.9 500.4 43.9 500.2C44.8 500.0 45.9 500.3 46.8 499.9C47.7 499.5 48.3 499.9 49.1 497.8C50.0 495.8 51.1 492.5 52.1 487.6C53.0 482.7 54.0 475.7 55.0 468.6C56.0 461.5 57.0 451.1 57.9 445.2C58.8 439.2 59.5 435.7 60.2 432.9C61.0 430.1 61.8 430.3 62.6 428.2C63.4 426.1 64.1 423.4 64.9 420.3C65.7 417.3 66.5 412.4 67.3 410.1C68.0 407.8 68.6 406.4 69.3 406.3C70.0 406.2 70.6 406.9 71.4 409.5C72.1 412.1 72.9 415.4 73.7 421.8C74.5 428.2 75.3 438.9 76.0 448.1C76.8 457.4 77.6 469.8 78.4 477.4C79.2 484.9 79.9 489.8 80.7 493.4C81.5 497.1 82.1 498.0 83.1 499.3C84.0 500.6 85.0 500.7 86.3 501.0C87.5 501.4 89.0 501.3 90.7 501.3C92.4 501.4 95.5 501.3 96.5 501.3" fill="none" stroke="#222" stroke-width=".75"/>
<path d="M42.1 383.8V507.2" stroke="#f00" stroke-width="1.8"/>
<text x="48.5" y="389.6" font-size="6.4" font-weight="bold" font-style="italic" textLength="37.3" lengthAdjust="spacingAndGlyphs" fill="#000" stroke="#000" stroke-width=".18">NODF=69.25</text>
<text x="49.7" y="399.2" font-size="6.4" font-weight="bold" font-style="italic" textLength="38" lengthAdjust="spacingAndGlyphs" fill="#000" stroke="#000" stroke-width=".18">p.value&lt;0.01</text>
<text transform="translate(12.4 458.7) rotate(-90)" font-size="7.3" font-weight="bold" fill="#111">Density</text>
<text y="520.5" font-size="7.5" font-weight="bold" fill="#111"><tspan x="24.5" textLength="12.6" lengthAdjust="spacingAndGlyphs">null</tspan><tspan x="44.5" textLength="20" lengthAdjust="spacingAndGlyphs">NODF</tspan><tspan x="65.1" dy="1.7" font-size="5.4" textLength="9.8" lengthAdjust="spacingAndGlyphs">row</tspan><tspan x="79.2" dy="-1.7" textLength="19.6" lengthAdjust="spacingAndGlyphs">score</tspan></text>
<path d="M389 381.4V505.7H462.1" fill="none" stroke="#777" stroke-width=".55"/>
<path d="M387.8 386.40000000000003H389" stroke="#333" stroke-width=".5"/>
<text x="387.2" y="387.80" font-size="3.6" text-anchor="end" fill="#222">0.75</text>
<path d="M387.8 424.40000000000003H389" stroke="#333" stroke-width=".5"/>
<text x="387.2" y="425.80" font-size="3.6" text-anchor="end" fill="#222">0.50</text>
<path d="M387.8 462.5H389" stroke="#333" stroke-width=".5"/>
<text x="387.2" y="463.90" font-size="3.6" text-anchor="end" fill="#222">0.25</text>
<path d="M387.8 500.5H389" stroke="#333" stroke-width=".5"/>
<text x="387.2" y="501.90" font-size="3.6" text-anchor="end" fill="#222">0.00</text>
<path d="M401.6 505.7v1.2" stroke="#333" stroke-width=".4"/>
<text x="401.6" y="511.00" font-size="3.6" text-anchor="middle" fill="#222">64</text>
<path d="M421.2 505.7v1.2" stroke="#333" stroke-width=".4"/>
<text x="421.2" y="511.00" font-size="3.6" text-anchor="middle" fill="#222">66</text>
<path d="M441 505.7v1.2" stroke="#333" stroke-width=".4"/>
<text x="441" y="511.00" font-size="3.6" text-anchor="middle" fill="#222">68</text>
<path d="M460.6 505.7v1.2" stroke="#333" stroke-width=".4"/>
<text x="460.6" y="511.00" font-size="3.6" text-anchor="middle" fill="#222">70</text>
<path d="M392.8 500.2C394.5 500.2 400.3 500.2 403.0 500.2C405.7 500.1 407.4 500.1 408.9 499.9C410.3 499.7 410.7 499.1 411.8 499.0C412.9 498.9 414.2 499.4 415.3 499.0C416.4 498.6 417.3 498.3 418.2 496.4C419.2 494.5 420.2 492.2 421.2 487.6C422.1 483.0 423.1 476.4 424.1 468.6C425.1 460.8 426.0 450.3 427.0 440.8C428.0 431.3 429.0 418.7 429.9 411.6C430.8 404.4 431.6 400.6 432.3 397.8C432.9 395.0 433.2 394.9 433.7 394.9C434.3 394.9 434.8 394.8 435.5 397.8C436.2 400.8 437.2 405.4 438.1 413.0C439.0 420.7 440.2 434.0 441.0 443.7C441.9 453.5 442.6 463.9 443.4 471.5C444.2 479.2 444.9 485.4 445.7 489.6C446.5 493.9 447.3 495.6 448.1 497.2C448.8 498.9 449.5 499.1 450.4 499.6C451.3 500.1 451.7 500.1 453.3 500.2C454.9 500.3 458.9 500.2 460.0 500.2" fill="none" stroke="#222" stroke-width=".75"/>
<path d="M415.3 381.4V505.7" stroke="#f00" stroke-width="1.8"/>
<text x="420.4" y="387.1" font-size="6.4" font-weight="bold" font-style="italic" textLength="33.8" lengthAdjust="spacingAndGlyphs" fill="#000" stroke="#000" stroke-width=".18">NODF=65.4</text>
<text x="420.2" y="395.9" font-size="6.4" font-weight="bold" font-style="italic" textLength="37.5" lengthAdjust="spacingAndGlyphs" fill="#000" stroke="#000" stroke-width=".18">p.value&lt;0.01</text>
<text transform="translate(376.5 455.8) rotate(-90)" font-size="7.3" font-weight="bold" fill="#111">Density</text>
<text x="396.9" y="519.6" font-size="7.5" font-weight="bold" textLength="58.7" lengthAdjust="spacingAndGlyphs" fill="#111">null NODF score</text>
</svg>
</body></html>
